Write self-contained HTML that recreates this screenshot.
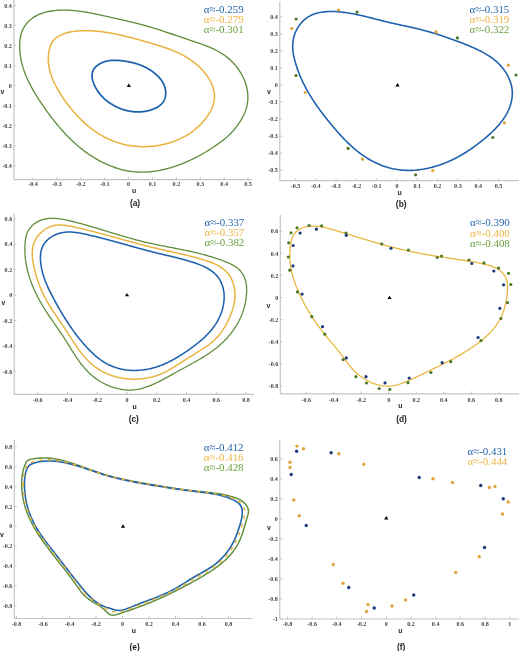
<!DOCTYPE html>
<html><head><meta charset="utf-8"><title>Figure</title>
<style>
html,body{margin:0;padding:0;background:#fff;}
body{width:520px;height:651px;overflow:hidden;}
svg{display:block;}
.tk{font-family:"Liberation Serif",serif;font-size:6.1px;fill:#444;font-weight:bold;}
.ax{font-family:"Liberation Sans",sans-serif;font-size:6.9px;font-weight:bold;fill:#2a2a2a;}
.pl{font-family:"Liberation Sans",sans-serif;font-size:8.4px;font-weight:bold;fill:#222;}
.lg{font-family:"Liberation Serif",serif;font-size:10.9px;}
</style></head><body>
<svg width="520" height="651" viewBox="0 0 520 651">
<rect width="520" height="651" fill="#fff"/>
<line x1="13.90" y1="0.00" x2="13.90" y2="179.60" stroke="#c4c4c4" stroke-width="1.2"/>
<line x1="13.90" y1="179.60" x2="252.00" y2="179.60" stroke="#c4c4c4" stroke-width="1.2"/>
<line x1="33.04" y1="179.60" x2="33.04" y2="177.10" stroke="#bbb" stroke-width="0.8"/>
<text x="33.04" y="186.20" class="tk" text-anchor="middle">-0.4</text>
<line x1="56.93" y1="179.60" x2="56.93" y2="177.10" stroke="#bbb" stroke-width="0.8"/>
<text x="56.93" y="186.20" class="tk" text-anchor="middle">-0.3</text>
<line x1="80.82" y1="179.60" x2="80.82" y2="177.10" stroke="#bbb" stroke-width="0.8"/>
<text x="80.82" y="186.20" class="tk" text-anchor="middle">-0.2</text>
<line x1="104.71" y1="179.60" x2="104.71" y2="177.10" stroke="#bbb" stroke-width="0.8"/>
<text x="104.71" y="186.20" class="tk" text-anchor="middle">-0.1</text>
<line x1="128.60" y1="179.60" x2="128.60" y2="177.10" stroke="#bbb" stroke-width="0.8"/>
<text x="128.60" y="186.20" class="tk" text-anchor="middle">0</text>
<line x1="152.49" y1="179.60" x2="152.49" y2="177.10" stroke="#bbb" stroke-width="0.8"/>
<text x="152.49" y="186.20" class="tk" text-anchor="middle">0.1</text>
<line x1="176.38" y1="179.60" x2="176.38" y2="177.10" stroke="#bbb" stroke-width="0.8"/>
<text x="176.38" y="186.20" class="tk" text-anchor="middle">0.2</text>
<line x1="200.27" y1="179.60" x2="200.27" y2="177.10" stroke="#bbb" stroke-width="0.8"/>
<text x="200.27" y="186.20" class="tk" text-anchor="middle">0.3</text>
<line x1="224.16" y1="179.60" x2="224.16" y2="177.10" stroke="#bbb" stroke-width="0.8"/>
<text x="224.16" y="186.20" class="tk" text-anchor="middle">0.4</text>
<line x1="248.05" y1="179.60" x2="248.05" y2="177.10" stroke="#bbb" stroke-width="0.8"/>
<text x="248.05" y="186.20" class="tk" text-anchor="middle">0.5</text>
<line x1="13.90" y1="165.76" x2="16.40" y2="165.76" stroke="#bbb" stroke-width="0.8"/>
<text x="11.90" y="167.96" class="tk" text-anchor="end">-0.4</text>
<line x1="13.90" y1="145.72" x2="16.40" y2="145.72" stroke="#bbb" stroke-width="0.8"/>
<text x="11.90" y="147.92" class="tk" text-anchor="end">-0.3</text>
<line x1="13.90" y1="125.68" x2="16.40" y2="125.68" stroke="#bbb" stroke-width="0.8"/>
<text x="11.90" y="127.88" class="tk" text-anchor="end">-0.2</text>
<line x1="13.90" y1="105.64" x2="16.40" y2="105.64" stroke="#bbb" stroke-width="0.8"/>
<text x="11.90" y="107.84" class="tk" text-anchor="end">-0.1</text>
<line x1="13.90" y1="85.60" x2="16.40" y2="85.60" stroke="#bbb" stroke-width="0.8"/>
<text x="11.90" y="87.80" class="tk" text-anchor="end">0</text>
<line x1="13.90" y1="65.56" x2="16.40" y2="65.56" stroke="#bbb" stroke-width="0.8"/>
<text x="11.90" y="67.76" class="tk" text-anchor="end">0.1</text>
<line x1="13.90" y1="45.52" x2="16.40" y2="45.52" stroke="#bbb" stroke-width="0.8"/>
<text x="11.90" y="47.72" class="tk" text-anchor="end">0.2</text>
<line x1="13.90" y1="25.48" x2="16.40" y2="25.48" stroke="#bbb" stroke-width="0.8"/>
<text x="11.90" y="27.68" class="tk" text-anchor="end">0.3</text>
<line x1="13.90" y1="5.44" x2="16.40" y2="5.44" stroke="#bbb" stroke-width="0.8"/>
<text x="11.90" y="7.64" class="tk" text-anchor="end">0.4</text>
<text x="134.10" y="192.80" class="ax" text-anchor="middle">u</text>
<text x="2.40" y="93.90" class="ax" text-anchor="middle">v</text>
<text x="135.00" y="206.40" class="pl" text-anchor="middle">(a)</text>
<path d="M126.70,86.90 L130.90,86.90 L128.80,83.50 Z" fill="#000"/>
<text x="203.80" y="12.60" class="lg" fill="#2565aa">α≈-0.259</text>
<text x="203.80" y="22.70" class="lg" fill="#eeb540">α≈-0.279</text>
<text x="203.80" y="32.80" class="lg" fill="#69a03e">α≈-0.301</text>
<line x1="279.80" y1="1.50" x2="279.80" y2="180.70" stroke="#c4c4c4" stroke-width="1.2"/>
<line x1="279.80" y1="180.70" x2="519.00" y2="180.70" stroke="#c4c4c4" stroke-width="1.2"/>
<line x1="295.50" y1="180.70" x2="295.50" y2="178.20" stroke="#bbb" stroke-width="0.8"/>
<text x="295.50" y="188.15" class="tk" text-anchor="middle">-0.5</text>
<line x1="315.80" y1="180.70" x2="315.80" y2="178.20" stroke="#bbb" stroke-width="0.8"/>
<text x="315.80" y="188.15" class="tk" text-anchor="middle">-0.4</text>
<line x1="336.10" y1="180.70" x2="336.10" y2="178.20" stroke="#bbb" stroke-width="0.8"/>
<text x="336.10" y="188.15" class="tk" text-anchor="middle">-0.3</text>
<line x1="356.40" y1="180.70" x2="356.40" y2="178.20" stroke="#bbb" stroke-width="0.8"/>
<text x="356.40" y="188.15" class="tk" text-anchor="middle">-0.2</text>
<line x1="376.70" y1="180.70" x2="376.70" y2="178.20" stroke="#bbb" stroke-width="0.8"/>
<text x="376.70" y="188.15" class="tk" text-anchor="middle">-0.1</text>
<line x1="397.00" y1="180.70" x2="397.00" y2="178.20" stroke="#bbb" stroke-width="0.8"/>
<text x="397.00" y="188.15" class="tk" text-anchor="middle">0</text>
<line x1="417.30" y1="180.70" x2="417.30" y2="178.20" stroke="#bbb" stroke-width="0.8"/>
<text x="417.30" y="188.15" class="tk" text-anchor="middle">0.1</text>
<line x1="437.60" y1="180.70" x2="437.60" y2="178.20" stroke="#bbb" stroke-width="0.8"/>
<text x="437.60" y="188.15" class="tk" text-anchor="middle">0.2</text>
<line x1="457.90" y1="180.70" x2="457.90" y2="178.20" stroke="#bbb" stroke-width="0.8"/>
<text x="457.90" y="188.15" class="tk" text-anchor="middle">0.3</text>
<line x1="478.20" y1="180.70" x2="478.20" y2="178.20" stroke="#bbb" stroke-width="0.8"/>
<text x="478.20" y="188.15" class="tk" text-anchor="middle">0.4</text>
<line x1="498.50" y1="180.70" x2="498.50" y2="178.20" stroke="#bbb" stroke-width="0.8"/>
<text x="498.50" y="188.15" class="tk" text-anchor="middle">0.5</text>
<line x1="279.80" y1="170.25" x2="282.30" y2="170.25" stroke="#bbb" stroke-width="0.8"/>
<text x="277.80" y="172.45" class="tk" text-anchor="end">-0.5</text>
<line x1="279.80" y1="153.20" x2="282.30" y2="153.20" stroke="#bbb" stroke-width="0.8"/>
<text x="277.80" y="155.40" class="tk" text-anchor="end">-0.4</text>
<line x1="279.80" y1="136.15" x2="282.30" y2="136.15" stroke="#bbb" stroke-width="0.8"/>
<text x="277.80" y="138.35" class="tk" text-anchor="end">-0.3</text>
<line x1="279.80" y1="119.10" x2="282.30" y2="119.10" stroke="#bbb" stroke-width="0.8"/>
<text x="277.80" y="121.30" class="tk" text-anchor="end">-0.2</text>
<line x1="279.80" y1="102.05" x2="282.30" y2="102.05" stroke="#bbb" stroke-width="0.8"/>
<text x="277.80" y="104.25" class="tk" text-anchor="end">-0.1</text>
<line x1="279.80" y1="85.00" x2="282.30" y2="85.00" stroke="#bbb" stroke-width="0.8"/>
<text x="277.80" y="87.20" class="tk" text-anchor="end">0</text>
<line x1="279.80" y1="67.95" x2="282.30" y2="67.95" stroke="#bbb" stroke-width="0.8"/>
<text x="277.80" y="70.15" class="tk" text-anchor="end">0.1</text>
<line x1="279.80" y1="50.90" x2="282.30" y2="50.90" stroke="#bbb" stroke-width="0.8"/>
<text x="277.80" y="53.10" class="tk" text-anchor="end">0.2</text>
<line x1="279.80" y1="33.85" x2="282.30" y2="33.85" stroke="#bbb" stroke-width="0.8"/>
<text x="277.80" y="36.05" class="tk" text-anchor="end">0.3</text>
<line x1="279.80" y1="16.80" x2="282.30" y2="16.80" stroke="#bbb" stroke-width="0.8"/>
<text x="277.80" y="19.00" class="tk" text-anchor="end">0.4</text>
<text x="399.70" y="194.90" class="ax" text-anchor="middle">u</text>
<text x="269.00" y="93.90" class="ax" text-anchor="middle">v</text>
<text x="401.20" y="206.60" class="pl" text-anchor="middle">(b)</text>
<path d="M395.40,86.50 L399.60,86.50 L397.50,83.10 Z" fill="#000"/>
<text x="469.50" y="13.00" class="lg" fill="#2565aa">α≈-0.315</text>
<text x="469.50" y="23.00" class="lg" fill="#eeb540">α≈-0.319</text>
<text x="469.50" y="33.00" class="lg" fill="#69a03e">α≈-0.322</text>
<line x1="14.20" y1="213.90" x2="14.20" y2="394.40" stroke="#c4c4c4" stroke-width="1.2"/>
<line x1="14.20" y1="394.40" x2="254.00" y2="394.40" stroke="#c4c4c4" stroke-width="1.2"/>
<line x1="37.75" y1="394.40" x2="37.75" y2="391.90" stroke="#bbb" stroke-width="0.8"/>
<text x="37.75" y="401.85" class="tk" text-anchor="middle">-0.6</text>
<line x1="67.50" y1="394.40" x2="67.50" y2="391.90" stroke="#bbb" stroke-width="0.8"/>
<text x="67.50" y="401.85" class="tk" text-anchor="middle">-0.4</text>
<line x1="97.25" y1="394.40" x2="97.25" y2="391.90" stroke="#bbb" stroke-width="0.8"/>
<text x="97.25" y="401.85" class="tk" text-anchor="middle">-0.2</text>
<line x1="127.00" y1="394.40" x2="127.00" y2="391.90" stroke="#bbb" stroke-width="0.8"/>
<text x="127.00" y="401.85" class="tk" text-anchor="middle">0</text>
<line x1="156.75" y1="394.40" x2="156.75" y2="391.90" stroke="#bbb" stroke-width="0.8"/>
<text x="156.75" y="401.85" class="tk" text-anchor="middle">0.2</text>
<line x1="186.50" y1="394.40" x2="186.50" y2="391.90" stroke="#bbb" stroke-width="0.8"/>
<text x="186.50" y="401.85" class="tk" text-anchor="middle">0.4</text>
<line x1="216.25" y1="394.40" x2="216.25" y2="391.90" stroke="#bbb" stroke-width="0.8"/>
<text x="216.25" y="401.85" class="tk" text-anchor="middle">0.6</text>
<line x1="246.00" y1="394.40" x2="246.00" y2="391.90" stroke="#bbb" stroke-width="0.8"/>
<text x="246.00" y="401.85" class="tk" text-anchor="middle">0.8</text>
<line x1="14.20" y1="371.32" x2="16.70" y2="371.32" stroke="#bbb" stroke-width="0.8"/>
<text x="12.20" y="373.52" class="tk" text-anchor="end">-0.6</text>
<line x1="14.20" y1="345.88" x2="16.70" y2="345.88" stroke="#bbb" stroke-width="0.8"/>
<text x="12.20" y="348.08" class="tk" text-anchor="end">-0.4</text>
<line x1="14.20" y1="320.44" x2="16.70" y2="320.44" stroke="#bbb" stroke-width="0.8"/>
<text x="12.20" y="322.64" class="tk" text-anchor="end">-0.2</text>
<line x1="14.20" y1="295.00" x2="16.70" y2="295.00" stroke="#bbb" stroke-width="0.8"/>
<text x="12.20" y="297.20" class="tk" text-anchor="end">0</text>
<line x1="14.20" y1="269.56" x2="16.70" y2="269.56" stroke="#bbb" stroke-width="0.8"/>
<text x="12.20" y="271.76" class="tk" text-anchor="end">0.2</text>
<line x1="14.20" y1="244.12" x2="16.70" y2="244.12" stroke="#bbb" stroke-width="0.8"/>
<text x="12.20" y="246.32" class="tk" text-anchor="end">0.4</text>
<line x1="14.20" y1="218.68" x2="16.70" y2="218.68" stroke="#bbb" stroke-width="0.8"/>
<text x="12.20" y="220.88" class="tk" text-anchor="end">0.6</text>
<text x="134.60" y="408.70" class="ax" text-anchor="middle">u</text>
<text x="3.50" y="304.50" class="ax" text-anchor="middle">v</text>
<text x="133.80" y="422.00" class="pl" text-anchor="middle">(c)</text>
<path d="M124.90,296.30 L129.10,296.30 L127.00,292.90 Z" fill="#000"/>
<text x="204.50" y="226.25" class="lg" fill="#2565aa">α≈-0.337</text>
<text x="204.50" y="236.25" class="lg" fill="#eeb540">α≈-0.357</text>
<text x="204.50" y="246.25" class="lg" fill="#69a03e">α≈-0.382</text>
<line x1="280.30" y1="215.00" x2="280.30" y2="393.90" stroke="#c4c4c4" stroke-width="1.2"/>
<line x1="280.30" y1="393.90" x2="519.00" y2="393.90" stroke="#c4c4c4" stroke-width="1.2"/>
<line x1="306.25" y1="393.90" x2="306.25" y2="391.40" stroke="#bbb" stroke-width="0.8"/>
<text x="306.25" y="401.65" class="tk" text-anchor="middle">-0.6</text>
<line x1="333.75" y1="393.90" x2="333.75" y2="391.40" stroke="#bbb" stroke-width="0.8"/>
<text x="333.75" y="401.65" class="tk" text-anchor="middle">-0.4</text>
<line x1="361.25" y1="393.90" x2="361.25" y2="391.40" stroke="#bbb" stroke-width="0.8"/>
<text x="361.25" y="401.65" class="tk" text-anchor="middle">-0.2</text>
<line x1="388.75" y1="393.90" x2="388.75" y2="391.40" stroke="#bbb" stroke-width="0.8"/>
<text x="388.75" y="401.65" class="tk" text-anchor="middle">0</text>
<line x1="416.25" y1="393.90" x2="416.25" y2="391.40" stroke="#bbb" stroke-width="0.8"/>
<text x="416.25" y="401.65" class="tk" text-anchor="middle">0.2</text>
<line x1="443.75" y1="393.90" x2="443.75" y2="391.40" stroke="#bbb" stroke-width="0.8"/>
<text x="443.75" y="401.65" class="tk" text-anchor="middle">0.4</text>
<line x1="471.25" y1="393.90" x2="471.25" y2="391.40" stroke="#bbb" stroke-width="0.8"/>
<text x="471.25" y="401.65" class="tk" text-anchor="middle">0.6</text>
<line x1="498.75" y1="393.90" x2="498.75" y2="391.40" stroke="#bbb" stroke-width="0.8"/>
<text x="498.75" y="401.65" class="tk" text-anchor="middle">0.8</text>
<line x1="280.30" y1="385.90" x2="282.80" y2="385.90" stroke="#bbb" stroke-width="0.8"/>
<text x="278.30" y="388.10" class="tk" text-anchor="end">-0.8</text>
<line x1="280.30" y1="363.80" x2="282.80" y2="363.80" stroke="#bbb" stroke-width="0.8"/>
<text x="278.30" y="366.00" class="tk" text-anchor="end">-0.6</text>
<line x1="280.30" y1="341.70" x2="282.80" y2="341.70" stroke="#bbb" stroke-width="0.8"/>
<text x="278.30" y="343.90" class="tk" text-anchor="end">-0.4</text>
<line x1="280.30" y1="319.60" x2="282.80" y2="319.60" stroke="#bbb" stroke-width="0.8"/>
<text x="278.30" y="321.80" class="tk" text-anchor="end">-0.2</text>
<line x1="280.30" y1="297.50" x2="282.80" y2="297.50" stroke="#bbb" stroke-width="0.8"/>
<text x="278.30" y="299.70" class="tk" text-anchor="end">0</text>
<line x1="280.30" y1="275.40" x2="282.80" y2="275.40" stroke="#bbb" stroke-width="0.8"/>
<text x="278.30" y="277.60" class="tk" text-anchor="end">0.2</text>
<line x1="280.30" y1="253.30" x2="282.80" y2="253.30" stroke="#bbb" stroke-width="0.8"/>
<text x="278.30" y="255.50" class="tk" text-anchor="end">0.4</text>
<line x1="280.30" y1="231.20" x2="282.80" y2="231.20" stroke="#bbb" stroke-width="0.8"/>
<text x="278.30" y="233.40" class="tk" text-anchor="end">0.6</text>
<text x="400.30" y="408.40" class="ax" text-anchor="middle">u</text>
<text x="268.50" y="307.80" class="ax" text-anchor="middle">v</text>
<text x="401.50" y="422.40" class="pl" text-anchor="middle">(d)</text>
<path d="M387.40,299.10 L391.60,299.10 L389.50,295.70 Z" fill="#000"/>
<text x="470.00" y="226.25" class="lg" fill="#2565aa">α≈-0.390</text>
<text x="470.00" y="236.75" class="lg" fill="#eeb540">α≈-0.400</text>
<text x="470.00" y="247.00" class="lg" fill="#69a03e">α≈-0.408</text>
<line x1="14.30" y1="439.60" x2="14.30" y2="618.50" stroke="#c4c4c4" stroke-width="1.2"/>
<line x1="14.30" y1="618.50" x2="252.50" y2="618.50" stroke="#c4c4c4" stroke-width="1.2"/>
<line x1="16.50" y1="618.50" x2="16.50" y2="616.00" stroke="#bbb" stroke-width="0.8"/>
<text x="16.50" y="626.05" class="tk" text-anchor="middle">-0.8</text>
<line x1="43.00" y1="618.50" x2="43.00" y2="616.00" stroke="#bbb" stroke-width="0.8"/>
<text x="43.00" y="626.05" class="tk" text-anchor="middle">-0.6</text>
<line x1="69.50" y1="618.50" x2="69.50" y2="616.00" stroke="#bbb" stroke-width="0.8"/>
<text x="69.50" y="626.05" class="tk" text-anchor="middle">-0.4</text>
<line x1="96.00" y1="618.50" x2="96.00" y2="616.00" stroke="#bbb" stroke-width="0.8"/>
<text x="96.00" y="626.05" class="tk" text-anchor="middle">-0.2</text>
<line x1="122.50" y1="618.50" x2="122.50" y2="616.00" stroke="#bbb" stroke-width="0.8"/>
<text x="122.50" y="626.05" class="tk" text-anchor="middle">0</text>
<line x1="149.00" y1="618.50" x2="149.00" y2="616.00" stroke="#bbb" stroke-width="0.8"/>
<text x="149.00" y="626.05" class="tk" text-anchor="middle">0.2</text>
<line x1="175.50" y1="618.50" x2="175.50" y2="616.00" stroke="#bbb" stroke-width="0.8"/>
<text x="175.50" y="626.05" class="tk" text-anchor="middle">0.4</text>
<line x1="202.00" y1="618.50" x2="202.00" y2="616.00" stroke="#bbb" stroke-width="0.8"/>
<text x="202.00" y="626.05" class="tk" text-anchor="middle">0.6</text>
<line x1="228.50" y1="618.50" x2="228.50" y2="616.00" stroke="#bbb" stroke-width="0.8"/>
<text x="228.50" y="626.05" class="tk" text-anchor="middle">0.8</text>
<line x1="14.30" y1="605.85" x2="16.80" y2="605.85" stroke="#bbb" stroke-width="0.8"/>
<text x="12.30" y="608.05" class="tk" text-anchor="end">-0.8</text>
<line x1="14.30" y1="585.95" x2="16.80" y2="585.95" stroke="#bbb" stroke-width="0.8"/>
<text x="12.30" y="588.15" class="tk" text-anchor="end">-0.6</text>
<line x1="14.30" y1="566.05" x2="16.80" y2="566.05" stroke="#bbb" stroke-width="0.8"/>
<text x="12.30" y="568.25" class="tk" text-anchor="end">-0.4</text>
<line x1="14.30" y1="546.15" x2="16.80" y2="546.15" stroke="#bbb" stroke-width="0.8"/>
<text x="12.30" y="548.35" class="tk" text-anchor="end">-0.2</text>
<line x1="14.30" y1="526.25" x2="16.80" y2="526.25" stroke="#bbb" stroke-width="0.8"/>
<text x="12.30" y="528.45" class="tk" text-anchor="end">0</text>
<line x1="14.30" y1="506.35" x2="16.80" y2="506.35" stroke="#bbb" stroke-width="0.8"/>
<text x="12.30" y="508.55" class="tk" text-anchor="end">0.2</text>
<line x1="14.30" y1="486.45" x2="16.80" y2="486.45" stroke="#bbb" stroke-width="0.8"/>
<text x="12.30" y="488.65" class="tk" text-anchor="end">0.4</text>
<line x1="14.30" y1="466.55" x2="16.80" y2="466.55" stroke="#bbb" stroke-width="0.8"/>
<text x="12.30" y="468.75" class="tk" text-anchor="end">0.6</text>
<line x1="14.30" y1="446.65" x2="16.80" y2="446.65" stroke="#bbb" stroke-width="0.8"/>
<text x="12.30" y="448.85" class="tk" text-anchor="end">0.8</text>
<text x="133.80" y="633.00" class="ax" text-anchor="middle">u</text>
<text x="2.00" y="536.50" class="ax" text-anchor="middle">v</text>
<text x="134.60" y="649.80" class="pl" text-anchor="middle">(e)</text>
<path d="M120.90,527.70 L125.10,527.70 L123.00,524.30 Z" fill="#000"/>
<text x="203.75" y="450.75" class="lg" fill="#2565aa">α≈-0.412</text>
<text x="203.75" y="461.25" class="lg" fill="#eeb540">α≈-0.416</text>
<text x="203.75" y="471.25" class="lg" fill="#69a03e">α≈-0.428</text>
<line x1="279.80" y1="439.60" x2="279.80" y2="619.00" stroke="#c4c4c4" stroke-width="1.2"/>
<line x1="279.80" y1="619.00" x2="519.00" y2="619.00" stroke="#c4c4c4" stroke-width="1.2"/>
<line x1="287.45" y1="619.00" x2="287.45" y2="616.50" stroke="#bbb" stroke-width="0.8"/>
<text x="287.45" y="626.45" class="tk" text-anchor="middle">-0.8</text>
<line x1="312.15" y1="619.00" x2="312.15" y2="616.50" stroke="#bbb" stroke-width="0.8"/>
<text x="312.15" y="626.45" class="tk" text-anchor="middle">-0.6</text>
<line x1="336.85" y1="619.00" x2="336.85" y2="616.50" stroke="#bbb" stroke-width="0.8"/>
<text x="336.85" y="626.45" class="tk" text-anchor="middle">-0.4</text>
<line x1="361.55" y1="619.00" x2="361.55" y2="616.50" stroke="#bbb" stroke-width="0.8"/>
<text x="361.55" y="626.45" class="tk" text-anchor="middle">-0.2</text>
<line x1="386.25" y1="619.00" x2="386.25" y2="616.50" stroke="#bbb" stroke-width="0.8"/>
<text x="386.25" y="626.45" class="tk" text-anchor="middle">0</text>
<line x1="410.95" y1="619.00" x2="410.95" y2="616.50" stroke="#bbb" stroke-width="0.8"/>
<text x="410.95" y="626.45" class="tk" text-anchor="middle">0.2</text>
<line x1="435.65" y1="619.00" x2="435.65" y2="616.50" stroke="#bbb" stroke-width="0.8"/>
<text x="435.65" y="626.45" class="tk" text-anchor="middle">0.4</text>
<line x1="460.35" y1="619.00" x2="460.35" y2="616.50" stroke="#bbb" stroke-width="0.8"/>
<text x="460.35" y="626.45" class="tk" text-anchor="middle">0.6</text>
<line x1="485.05" y1="619.00" x2="485.05" y2="616.50" stroke="#bbb" stroke-width="0.8"/>
<text x="485.05" y="626.45" class="tk" text-anchor="middle">0.8</text>
<line x1="509.75" y1="619.00" x2="509.75" y2="616.50" stroke="#bbb" stroke-width="0.8"/>
<text x="509.75" y="626.45" class="tk" text-anchor="middle">1</text>
<line x1="279.80" y1="618.75" x2="282.30" y2="618.75" stroke="#bbb" stroke-width="0.8"/>
<text x="277.80" y="620.95" class="tk" text-anchor="end">-1</text>
<line x1="279.80" y1="598.75" x2="282.30" y2="598.75" stroke="#bbb" stroke-width="0.8"/>
<text x="277.80" y="600.95" class="tk" text-anchor="end">-0.8</text>
<line x1="279.80" y1="578.75" x2="282.30" y2="578.75" stroke="#bbb" stroke-width="0.8"/>
<text x="277.80" y="580.95" class="tk" text-anchor="end">-0.6</text>
<line x1="279.80" y1="558.75" x2="282.30" y2="558.75" stroke="#bbb" stroke-width="0.8"/>
<text x="277.80" y="560.95" class="tk" text-anchor="end">-0.4</text>
<line x1="279.80" y1="538.75" x2="282.30" y2="538.75" stroke="#bbb" stroke-width="0.8"/>
<text x="277.80" y="540.95" class="tk" text-anchor="end">-0.2</text>
<line x1="279.80" y1="518.75" x2="282.30" y2="518.75" stroke="#bbb" stroke-width="0.8"/>
<text x="277.80" y="520.95" class="tk" text-anchor="end">0</text>
<line x1="279.80" y1="498.75" x2="282.30" y2="498.75" stroke="#bbb" stroke-width="0.8"/>
<text x="277.80" y="500.95" class="tk" text-anchor="end">0.2</text>
<line x1="279.80" y1="478.75" x2="282.30" y2="478.75" stroke="#bbb" stroke-width="0.8"/>
<text x="277.80" y="480.95" class="tk" text-anchor="end">0.4</text>
<line x1="279.80" y1="458.75" x2="282.30" y2="458.75" stroke="#bbb" stroke-width="0.8"/>
<text x="277.80" y="460.95" class="tk" text-anchor="end">0.6</text>
<text x="400.30" y="633.40" class="ax" text-anchor="middle">u</text>
<text x="268.80" y="530.00" class="ax" text-anchor="middle">v</text>
<text x="401.20" y="650.20" class="pl" text-anchor="middle">(f)</text>
<path d="M384.15,519.50 L388.35,519.50 L386.25,516.10 Z" fill="#000"/>
<text x="467.50" y="455.00" class="lg" fill="#2565aa">α≈-0.431</text>
<text x="467.50" y="465.00" class="lg" fill="#eeb540">α≈-0.444</text>
<path d="M19.65,45.56 L19.68,44.00 L19.76,42.45 L19.88,40.89 L20.05,39.34 L20.27,37.80 L20.56,36.27 L20.91,34.76 L21.32,33.28 L21.81,31.82 L22.38,30.40 L23.03,29.01 L23.76,27.66 L24.56,26.35 L25.44,25.09 L26.37,23.87 L27.37,22.70 L28.43,21.58 L29.53,20.52 L30.68,19.52 L31.88,18.57 L33.11,17.68 L34.38,16.85 L35.68,16.09 L37.01,15.37 L38.37,14.72 L39.76,14.12 L41.17,13.56 L42.61,13.06 L44.06,12.61 L45.54,12.20 L47.03,11.83 L48.53,11.50 L50.05,11.22 L51.58,10.97 L53.11,10.76 L54.66,10.59 L56.20,10.44 L57.75,10.33 L59.30,10.24 L60.85,10.18 L62.40,10.15 L63.94,10.14 L65.48,10.15 L67.01,10.19 L68.54,10.24 L70.07,10.32 L71.59,10.41 L73.11,10.53 L74.63,10.66 L76.14,10.81 L77.65,10.98 L79.16,11.17 L80.67,11.36 L82.17,11.58 L83.68,11.80 L85.18,12.04 L86.68,12.29 L88.18,12.55 L89.67,12.83 L91.17,13.11 L92.66,13.40 L94.16,13.70 L95.65,14.00 L97.14,14.32 L98.63,14.64 L100.13,14.96 L101.62,15.29 L103.11,15.62 L104.60,15.95 L106.10,16.29 L107.59,16.62 L109.09,16.96 L110.58,17.29 L112.08,17.63 L113.58,17.96 L115.07,18.30 L116.57,18.63 L118.07,18.97 L119.57,19.31 L121.07,19.65 L122.57,19.99 L124.06,20.33 L125.56,20.67 L127.06,21.02 L128.55,21.37 L130.04,21.73 L131.54,22.08 L133.03,22.44 L134.52,22.81 L136.00,23.18 L137.49,23.55 L138.97,23.93 L140.45,24.32 L141.93,24.71 L143.40,25.11 L144.87,25.51 L146.34,25.92 L147.81,26.34 L149.27,26.77 L150.73,27.20 L152.18,27.63 L153.64,28.08 L155.09,28.53 L156.54,28.98 L157.98,29.44 L159.43,29.91 L160.87,30.38 L162.31,30.85 L163.76,31.32 L165.20,31.80 L166.64,32.29 L168.08,32.77 L169.52,33.26 L170.96,33.75 L172.40,34.25 L173.84,34.74 L175.28,35.23 L176.72,35.73 L178.16,36.23 L179.61,36.72 L181.05,37.22 L182.50,37.72 L183.95,38.21 L185.40,38.71 L186.86,39.20 L188.32,39.69 L189.78,40.18 L191.24,40.67 L192.71,41.16 L194.17,41.65 L195.64,42.14 L197.11,42.63 L198.57,43.13 L200.03,43.63 L201.49,44.14 L202.95,44.67 L204.39,45.20 L205.84,45.75 L207.27,46.31 L208.70,46.88 L210.11,47.47 L211.52,48.08 L212.91,48.72 L214.30,49.37 L215.66,50.04 L217.02,50.74 L218.36,51.47 L219.68,52.22 L220.99,53.00 L222.27,53.81 L223.54,54.66 L224.79,55.53 L226.02,56.45 L227.22,57.39 L228.41,58.37 L229.56,59.38 L230.70,60.42 L231.80,61.50 L232.88,62.60 L233.93,63.72 L234.95,64.88 L235.94,66.06 L236.90,67.27 L237.83,68.50 L238.72,69.75 L239.58,71.02 L240.40,72.32 L241.18,73.63 L241.93,74.97 L242.64,76.32 L243.31,77.69 L243.94,79.07 L244.52,80.47 L245.06,81.88 L245.56,83.31 L246.01,84.74 L246.42,86.19 L246.78,87.65 L247.09,89.11 L247.35,90.58 L247.57,92.06 L247.72,93.55 L247.83,95.03 L247.89,96.53 L247.89,98.02 L247.83,99.52 L247.72,101.01 L247.55,102.51 L247.32,104.00 L247.03,105.49 L246.68,106.98 L246.26,108.46 L245.79,109.94 L245.26,111.41 L244.67,112.87 L244.03,114.31 L243.34,115.75 L242.61,117.17 L241.84,118.57 L241.03,119.95 L240.19,121.32 L239.32,122.66 L238.43,123.98 L237.51,125.27 L236.58,126.53 L235.63,127.76 L234.68,128.96 L233.70,130.13 L232.72,131.28 L231.71,132.39 L230.69,133.47 L229.65,134.53 L228.58,135.56 L227.49,136.56 L226.37,137.54 L225.22,138.50 L224.05,139.43 L222.87,140.35 L221.67,141.26 L220.46,142.15 L219.23,143.04 L218.00,143.92 L216.76,144.79 L215.52,145.66 L214.26,146.51 L213.00,147.36 L211.73,148.20 L210.45,149.03 L209.16,149.85 L207.87,150.66 L206.56,151.46 L205.25,152.24 L203.94,153.02 L202.61,153.79 L201.28,154.55 L199.94,155.29 L198.60,156.03 L197.24,156.75 L195.88,157.46 L194.52,158.15 L193.14,158.84 L191.76,159.51 L190.37,160.16 L188.98,160.81 L187.58,161.44 L186.18,162.05 L184.76,162.65 L183.35,163.24 L181.92,163.81 L180.49,164.36 L179.06,164.90 L177.61,165.42 L176.17,165.93 L174.71,166.42 L173.25,166.89 L171.79,167.35 L170.32,167.78 L168.85,168.21 L167.37,168.61 L165.88,168.99 L164.39,169.35 L162.90,169.70 L161.41,170.02 L159.91,170.32 L158.40,170.61 L156.90,170.87 L155.39,171.10 L153.88,171.32 L152.37,171.51 L150.85,171.68 L149.34,171.82 L147.82,171.94 L146.30,172.03 L144.78,172.10 L143.26,172.14 L141.74,172.16 L140.22,172.15 L138.71,172.11 L137.19,172.04 L135.67,171.95 L134.15,171.82 L132.64,171.67 L131.13,171.48 L129.62,171.27 L128.11,171.02 L126.60,170.75 L125.10,170.44 L123.60,170.10 L122.11,169.74 L120.62,169.34 L119.14,168.92 L117.66,168.47 L116.19,168.00 L114.72,167.50 L113.27,166.98 L111.82,166.43 L110.38,165.86 L108.95,165.27 L107.53,164.66 L106.12,164.03 L104.72,163.38 L103.33,162.71 L101.95,162.02 L100.59,161.31 L99.24,160.59 L97.90,159.85 L96.57,159.10 L95.26,158.33 L93.95,157.54 L92.66,156.74 L91.38,155.92 L90.12,155.09 L88.86,154.24 L87.62,153.38 L86.38,152.50 L85.16,151.61 L83.95,150.70 L82.75,149.79 L81.56,148.85 L80.38,147.91 L79.21,146.95 L78.06,145.98 L76.91,144.99 L75.77,144.00 L74.64,142.99 L73.52,141.97 L72.42,140.94 L71.32,139.90 L70.23,138.84 L69.15,137.78 L68.08,136.70 L67.01,135.61 L65.96,134.52 L64.92,133.41 L63.88,132.29 L62.85,131.17 L61.83,130.03 L60.82,128.89 L59.82,127.73 L58.82,126.57 L57.84,125.40 L56.86,124.22 L55.89,123.03 L54.92,121.84 L53.96,120.64 L53.01,119.43 L52.07,118.21 L51.14,116.99 L50.21,115.76 L49.28,114.52 L48.37,113.28 L47.46,112.03 L46.55,110.78 L45.66,109.52 L44.77,108.25 L43.88,106.98 L43.00,105.71 L42.13,104.43 L41.26,103.15 L40.40,101.86 L39.54,100.57 L38.69,99.27 L37.86,97.97 L37.03,96.66 L36.21,95.35 L35.40,94.03 L34.61,92.71 L33.83,91.38 L33.06,90.05 L32.30,88.71 L31.56,87.37 L30.83,86.02 L30.12,84.66 L29.43,83.30 L28.75,81.93 L28.10,80.56 L27.46,79.18 L26.84,77.79 L26.24,76.40 L25.66,75.00 L25.11,73.60 L24.57,72.19 L24.06,70.77 L23.58,69.35 L23.11,67.91 L22.68,66.48 L22.27,65.03 L21.89,63.58 L21.53,62.12 L21.20,60.65 L20.91,59.18 L20.64,57.69 L20.40,56.20 L20.19,54.71 L20.02,53.20 L19.88,51.69 L19.77,50.17 L19.69,48.64 L19.66,47.10Z" fill="none" stroke="#628f3e" stroke-width="1.35" stroke-linejoin="round"/>
<path d="M48.95,51.48 L49.16,50.36 L49.41,49.25 L49.69,48.15 L50.01,47.06 L50.37,45.98 L50.78,44.93 L51.24,43.91 L51.74,42.92 L52.30,41.97 L52.91,41.06 L53.58,40.20 L54.31,39.40 L55.10,38.65 L55.95,37.96 L56.84,37.31 L57.77,36.71 L58.72,36.15 L59.70,35.63 L60.70,35.14 L61.71,34.68 L62.73,34.26 L63.77,33.86 L64.82,33.49 L65.87,33.15 L66.94,32.83 L68.02,32.54 L69.10,32.28 L70.19,32.04 L71.29,31.82 L72.40,31.63 L73.51,31.45 L74.63,31.30 L75.75,31.17 L76.88,31.05 L78.01,30.96 L79.14,30.87 L80.27,30.81 L81.41,30.76 L82.54,30.73 L83.68,30.70 L84.81,30.69 L85.94,30.70 L87.07,30.71 L88.20,30.73 L89.32,30.76 L90.45,30.80 L91.57,30.85 L92.68,30.92 L93.80,30.98 L94.91,31.06 L96.02,31.15 L97.13,31.25 L98.23,31.35 L99.34,31.46 L100.44,31.58 L101.54,31.71 L102.64,31.85 L103.73,31.99 L104.83,32.14 L105.92,32.30 L107.01,32.46 L108.10,32.64 L109.19,32.81 L110.28,33.00 L111.36,33.19 L112.44,33.39 L113.53,33.59 L114.61,33.80 L115.69,34.02 L116.77,34.24 L117.85,34.47 L118.92,34.70 L120.00,34.93 L121.07,35.18 L122.15,35.42 L123.22,35.67 L124.30,35.93 L125.37,36.19 L126.44,36.45 L127.51,36.72 L128.58,36.99 L129.65,37.26 L130.73,37.54 L131.80,37.82 L132.87,38.10 L133.94,38.39 L135.01,38.68 L136.08,38.97 L137.15,39.26 L138.22,39.56 L139.29,39.85 L140.36,40.15 L141.43,40.45 L142.50,40.76 L143.57,41.06 L144.65,41.36 L145.72,41.67 L146.79,41.98 L147.87,42.28 L148.94,42.59 L150.02,42.90 L151.09,43.21 L152.17,43.53 L153.24,43.84 L154.32,44.16 L155.39,44.48 L156.46,44.81 L157.53,45.14 L158.60,45.47 L159.67,45.80 L160.73,46.14 L161.80,46.49 L162.86,46.84 L163.92,47.20 L164.97,47.56 L166.03,47.93 L167.08,48.30 L168.12,48.68 L169.17,49.07 L170.21,49.47 L171.24,49.87 L172.28,50.28 L173.30,50.70 L174.33,51.13 L175.34,51.57 L176.36,52.01 L177.36,52.47 L178.37,52.93 L179.36,53.41 L180.36,53.89 L181.34,54.39 L182.32,54.90 L183.29,55.42 L184.26,55.95 L185.22,56.49 L186.17,57.05 L187.12,57.61 L188.06,58.19 L188.99,58.79 L189.91,59.39 L190.82,60.02 L191.73,60.65 L192.63,61.30 L193.52,61.96 L194.40,62.64 L195.27,63.34 L196.13,64.05 L196.98,64.78 L197.83,65.52 L198.66,66.28 L199.49,67.05 L200.30,67.85 L201.10,68.66 L201.89,69.48 L202.66,70.33 L203.42,71.18 L204.17,72.05 L204.90,72.94 L205.61,73.84 L206.30,74.75 L206.97,75.67 L207.62,76.61 L208.25,77.55 L208.85,78.51 L209.43,79.48 L209.98,80.45 L210.51,81.44 L211.01,82.43 L211.48,83.43 L211.93,84.44 L212.34,85.46 L212.72,86.48 L213.06,87.51 L213.38,88.55 L213.65,89.58 L213.89,90.63 L214.10,91.67 L214.26,92.73 L214.39,93.78 L214.48,94.83 L214.52,95.89 L214.52,96.95 L214.48,98.01 L214.39,99.06 L214.26,100.12 L214.09,101.18 L213.87,102.23 L213.61,103.28 L213.31,104.33 L212.97,105.38 L212.60,106.42 L212.19,107.45 L211.75,108.48 L211.28,109.50 L210.78,110.51 L210.25,111.51 L209.69,112.51 L209.10,113.49 L208.50,114.47 L207.87,115.43 L207.22,116.38 L206.55,117.32 L205.86,118.25 L205.15,119.16 L204.44,120.05 L203.70,120.93 L202.96,121.80 L202.20,122.65 L201.44,123.48 L200.66,124.30 L199.86,125.10 L199.06,125.89 L198.25,126.66 L197.42,127.41 L196.58,128.15 L195.74,128.88 L194.88,129.59 L194.01,130.28 L193.13,130.96 L192.24,131.63 L191.35,132.28 L190.44,132.91 L189.52,133.53 L188.60,134.13 L187.66,134.72 L186.72,135.30 L185.77,135.86 L184.81,136.40 L183.84,136.93 L182.86,137.45 L181.88,137.95 L180.89,138.44 L179.89,138.91 L178.89,139.37 L177.87,139.82 L176.85,140.25 L175.83,140.66 L174.80,141.06 L173.76,141.45 L172.71,141.82 L171.66,142.18 L170.61,142.53 L169.55,142.86 L168.48,143.18 L167.41,143.48 L166.34,143.77 L165.26,144.05 L164.17,144.31 L163.08,144.56 L161.99,144.80 L160.90,145.02 L159.80,145.22 L158.70,145.42 L157.59,145.59 L156.49,145.76 L155.38,145.91 L154.27,146.05 L153.15,146.17 L152.04,146.28 L150.92,146.37 L149.81,146.45 L148.69,146.52 L147.57,146.57 L146.45,146.61 L145.33,146.64 L144.21,146.65 L143.09,146.65 L141.97,146.63 L140.86,146.60 L139.74,146.55 L138.62,146.49 L137.51,146.42 L136.39,146.33 L135.28,146.23 L134.17,146.12 L133.07,145.99 L131.96,145.85 L130.86,145.69 L129.76,145.52 L128.67,145.33 L127.57,145.13 L126.49,144.92 L125.40,144.69 L124.32,144.45 L123.25,144.20 L122.17,143.93 L121.11,143.64 L120.05,143.34 L118.99,143.03 L117.94,142.71 L116.89,142.37 L115.85,142.01 L114.82,141.64 L113.79,141.26 L112.77,140.87 L111.76,140.46 L110.75,140.04 L109.75,139.60 L108.75,139.15 L107.76,138.69 L106.78,138.21 L105.80,137.73 L104.83,137.23 L103.86,136.72 L102.90,136.19 L101.95,135.66 L101.00,135.11 L100.06,134.55 L99.13,133.98 L98.20,133.39 L97.28,132.80 L96.36,132.19 L95.45,131.58 L94.55,130.95 L93.65,130.31 L92.76,129.66 L91.88,129.01 L91.00,128.34 L90.13,127.66 L89.26,126.97 L88.40,126.27 L87.55,125.56 L86.70,124.85 L85.86,124.12 L85.03,123.38 L84.20,122.64 L83.38,121.89 L82.57,121.12 L81.76,120.35 L80.96,119.57 L80.16,118.79 L79.37,117.99 L78.59,117.19 L77.81,116.38 L77.05,115.56 L76.28,114.73 L75.53,113.90 L74.78,113.06 L74.03,112.21 L73.29,111.36 L72.56,110.49 L71.84,109.63 L71.12,108.75 L70.41,107.87 L69.71,106.99 L69.01,106.09 L68.32,105.20 L67.63,104.29 L66.95,103.38 L66.28,102.47 L65.62,101.55 L64.96,100.62 L64.31,99.70 L63.66,98.76 L63.02,97.82 L62.39,96.88 L61.77,95.93 L61.15,94.98 L60.54,94.03 L59.94,93.07 L59.34,92.10 L58.76,91.13 L58.18,90.16 L57.62,89.18 L57.07,88.20 L56.53,87.22 L56.00,86.23 L55.48,85.24 L54.98,84.24 L54.49,83.24 L54.01,82.24 L53.55,81.23 L53.11,80.22 L52.68,79.20 L52.26,78.18 L51.87,77.16 L51.49,76.13 L51.13,75.10 L50.79,74.06 L50.47,73.02 L50.17,71.98 L49.89,70.93 L49.63,69.88 L49.39,68.83 L49.17,67.77 L48.98,66.71 L48.81,65.65 L48.66,64.58 L48.54,63.51 L48.44,62.43 L48.36,61.35 L48.32,60.27 L48.30,59.18 L48.31,58.09 L48.34,57.00 L48.40,55.90 L48.49,54.80 L48.62,53.70 L48.77,52.59Z" fill="none" stroke="#e8b23c" stroke-width="1.50" stroke-linejoin="round"/>
<path d="M104.20,61.85 L104.69,61.69 L105.18,61.54 L105.68,61.40 L106.17,61.27 L106.67,61.15 L107.17,61.03 L107.68,60.93 L108.18,60.83 L108.69,60.75 L109.19,60.67 L109.70,60.60 L110.21,60.53 L110.72,60.48 L111.23,60.43 L111.75,60.39 L112.26,60.36 L112.77,60.33 L113.29,60.31 L113.80,60.30 L114.32,60.29 L114.83,60.29 L115.35,60.29 L115.87,60.30 L116.38,60.32 L116.90,60.34 L117.41,60.36 L117.93,60.39 L118.44,60.43 L118.96,60.47 L119.47,60.51 L119.98,60.56 L120.49,60.61 L121.00,60.66 L121.51,60.72 L122.02,60.78 L122.53,60.85 L123.04,60.92 L123.54,60.99 L124.04,61.06 L124.54,61.13 L125.04,61.21 L125.54,61.29 L126.03,61.37 L126.53,61.45 L127.02,61.53 L127.51,61.62 L128.00,61.71 L128.48,61.80 L128.97,61.89 L129.45,61.98 L129.93,62.08 L130.41,62.18 L130.88,62.28 L131.36,62.38 L131.83,62.49 L132.31,62.59 L132.78,62.71 L133.25,62.82 L133.72,62.94 L134.18,63.06 L134.65,63.18 L135.12,63.31 L135.58,63.44 L136.04,63.58 L136.50,63.72 L136.96,63.86 L137.42,64.00 L137.88,64.15 L138.34,64.31 L138.80,64.46 L139.25,64.63 L139.71,64.79 L140.16,64.96 L140.61,65.13 L141.07,65.31 L141.52,65.49 L141.96,65.68 L142.41,65.87 L142.86,66.06 L143.30,66.26 L143.74,66.46 L144.19,66.67 L144.63,66.88 L145.07,67.09 L145.50,67.31 L145.94,67.54 L146.37,67.76 L146.81,68.00 L147.24,68.23 L147.67,68.48 L148.10,68.72 L148.52,68.97 L148.95,69.23 L149.37,69.49 L149.79,69.75 L150.21,70.02 L150.63,70.29 L151.04,70.57 L151.45,70.86 L151.86,71.14 L152.27,71.44 L152.68,71.73 L153.09,72.04 L153.49,72.35 L153.89,72.66 L154.29,72.97 L154.69,73.30 L155.08,73.62 L155.47,73.96 L155.86,74.29 L156.25,74.64 L156.64,74.98 L157.02,75.34 L157.39,75.70 L157.77,76.06 L158.13,76.43 L158.50,76.80 L158.85,77.18 L159.21,77.56 L159.55,77.94 L159.89,78.34 L160.23,78.73 L160.55,79.14 L160.87,79.54 L161.18,79.95 L161.48,80.37 L161.78,80.79 L162.06,81.22 L162.34,81.65 L162.60,82.08 L162.86,82.52 L163.10,82.97 L163.34,83.42 L163.56,83.87 L163.78,84.33 L163.98,84.79 L164.17,85.26 L164.35,85.72 L164.52,86.20 L164.68,86.67 L164.83,87.14 L164.97,87.62 L165.09,88.10 L165.21,88.58 L165.31,89.06 L165.40,89.54 L165.48,90.02 L165.55,90.50 L165.61,90.98 L165.65,91.47 L165.69,91.94 L165.71,92.42 L165.72,92.90 L165.72,93.37 L165.70,93.85 L165.68,94.32 L165.64,94.78 L165.59,95.25 L165.53,95.71 L165.46,96.16 L165.37,96.62 L165.27,97.07 L165.16,97.51 L165.04,97.95 L164.90,98.38 L164.75,98.81 L164.59,99.23 L164.42,99.65 L164.23,100.05 L164.03,100.46 L163.82,100.85 L163.59,101.24 L163.35,101.62 L163.10,101.99 L162.84,102.36 L162.57,102.71 L162.28,103.06 L161.98,103.40 L161.67,103.74 L161.35,104.07 L161.03,104.39 L160.69,104.70 L160.34,105.01 L159.98,105.30 L159.61,105.60 L159.24,105.88 L158.85,106.16 L158.46,106.43 L158.06,106.69 L157.65,106.95 L157.24,107.20 L156.81,107.44 L156.39,107.67 L155.95,107.90 L155.51,108.12 L155.06,108.34 L154.61,108.55 L154.16,108.75 L153.70,108.94 L153.23,109.13 L152.76,109.32 L152.29,109.49 L151.81,109.66 L151.33,109.82 L150.85,109.98 L150.37,110.13 L149.88,110.27 L149.39,110.41 L148.90,110.54 L148.41,110.67 L147.92,110.79 L147.42,110.90 L146.93,111.01 L146.43,111.11 L145.94,111.20 L145.44,111.29 L144.94,111.37 L144.44,111.45 L143.94,111.52 L143.44,111.58 L142.93,111.64 L142.43,111.70 L141.93,111.74 L141.42,111.79 L140.92,111.82 L140.41,111.85 L139.91,111.87 L139.40,111.89 L138.90,111.91 L138.39,111.91 L137.88,111.91 L137.38,111.91 L136.87,111.90 L136.36,111.88 L135.86,111.86 L135.35,111.84 L134.84,111.81 L134.34,111.77 L133.83,111.72 L133.33,111.68 L132.82,111.62 L132.32,111.56 L131.81,111.50 L131.31,111.43 L130.80,111.36 L130.30,111.28 L129.80,111.19 L129.30,111.10 L128.80,111.00 L128.30,110.90 L127.80,110.80 L127.30,110.69 L126.81,110.57 L126.31,110.45 L125.82,110.32 L125.32,110.19 L124.83,110.06 L124.34,109.91 L123.85,109.77 L123.37,109.62 L122.88,109.46 L122.39,109.30 L121.91,109.14 L121.43,108.97 L120.95,108.79 L120.47,108.61 L120.00,108.43 L119.52,108.24 L119.05,108.04 L118.58,107.85 L118.11,107.64 L117.65,107.44 L117.18,107.22 L116.72,107.01 L116.26,106.79 L115.80,106.56 L115.35,106.33 L114.90,106.10 L114.45,105.86 L114.00,105.61 L113.55,105.37 L113.11,105.11 L112.67,104.86 L112.24,104.60 L111.80,104.33 L111.37,104.06 L110.94,103.79 L110.52,103.51 L110.10,103.23 L109.68,102.95 L109.26,102.66 L108.85,102.36 L108.44,102.07 L108.03,101.77 L107.63,101.46 L107.23,101.15 L106.84,100.84 L106.45,100.52 L106.06,100.20 L105.67,99.87 L105.29,99.54 L104.91,99.21 L104.54,98.87 L104.17,98.53 L103.80,98.19 L103.44,97.84 L103.08,97.49 L102.73,97.14 L102.38,96.78 L102.04,96.42 L101.69,96.05 L101.36,95.68 L101.03,95.31 L100.70,94.93 L100.37,94.55 L100.06,94.17 L99.74,93.78 L99.43,93.39 L99.13,93.00 L98.83,92.60 L98.53,92.20 L98.24,91.80 L97.95,91.39 L97.67,90.98 L97.40,90.57 L97.13,90.15 L96.86,89.73 L96.60,89.31 L96.35,88.88 L96.10,88.46 L95.85,88.02 L95.61,87.59 L95.38,87.15 L95.15,86.71 L94.93,86.27 L94.71,85.82 L94.50,85.37 L94.30,84.92 L94.10,84.47 L93.91,84.01 L93.73,83.56 L93.56,83.10 L93.39,82.64 L93.23,82.18 L93.08,81.72 L92.94,81.26 L92.81,80.80 L92.69,80.33 L92.58,79.87 L92.47,79.41 L92.38,78.95 L92.30,78.49 L92.23,78.04 L92.17,77.58 L92.13,77.13 L92.09,76.67 L92.07,76.22 L92.06,75.77 L92.06,75.33 L92.08,74.89 L92.11,74.45 L92.16,74.01 L92.21,73.58 L92.29,73.15 L92.37,72.72 L92.48,72.30 L92.59,71.88 L92.73,71.47 L92.88,71.07 L93.04,70.66 L93.23,70.27 L93.43,69.88 L93.64,69.49 L93.88,69.11 L94.13,68.74 L94.40,68.37 L94.68,68.01 L94.98,67.66 L95.29,67.31 L95.61,66.97 L95.95,66.64 L96.30,66.31 L96.67,65.99 L97.04,65.68 L97.43,65.38 L97.83,65.08 L98.24,64.80 L98.65,64.52 L99.08,64.25 L99.51,63.98 L99.96,63.73 L100.41,63.48 L100.86,63.25 L101.32,63.02 L101.79,62.80 L102.27,62.59 L102.74,62.39 L103.22,62.20 L103.71,62.02Z" fill="none" stroke="#1e62ad" stroke-width="1.75" stroke-linejoin="round"/>
<path d="M292.86,42.48 L293.04,41.02 L293.28,39.57 L293.58,38.13 L293.94,36.71 L294.36,35.30 L294.84,33.91 L295.37,32.54 L295.96,31.20 L296.59,29.89 L297.28,28.60 L298.02,27.35 L298.81,26.13 L299.65,24.94 L300.53,23.80 L301.46,22.70 L302.43,21.64 L303.44,20.64 L304.49,19.68 L305.59,18.77 L306.72,17.92 L307.88,17.12 L309.09,16.39 L310.33,15.71 L311.60,15.09 L312.90,14.53 L314.22,14.02 L315.58,13.57 L316.96,13.16 L318.36,12.81 L319.78,12.50 L321.23,12.23 L322.68,12.01 L324.16,11.83 L325.65,11.69 L327.15,11.59 L328.66,11.52 L330.17,11.48 L331.70,11.48 L333.22,11.50 L334.75,11.56 L336.28,11.64 L337.81,11.74 L339.33,11.87 L340.85,12.01 L342.37,12.18 L343.87,12.36 L345.37,12.55 L346.85,12.77 L348.33,12.99 L349.81,13.23 L351.27,13.48 L352.74,13.75 L354.19,14.03 L355.64,14.32 L357.08,14.61 L358.52,14.92 L359.96,15.24 L361.39,15.56 L362.82,15.89 L364.25,16.23 L365.67,16.57 L367.09,16.92 L368.51,17.28 L369.92,17.63 L371.34,17.99 L372.76,18.35 L374.17,18.72 L375.59,19.08 L377.00,19.44 L378.42,19.81 L379.83,20.17 L381.25,20.53 L382.68,20.89 L384.10,21.24 L385.53,21.59 L386.96,21.93 L388.39,22.27 L389.83,22.60 L391.26,22.93 L392.70,23.26 L394.15,23.58 L395.59,23.90 L397.04,24.22 L398.49,24.54 L399.94,24.85 L401.39,25.17 L402.84,25.48 L404.29,25.80 L405.74,26.12 L407.19,26.43 L408.63,26.75 L410.08,27.08 L411.53,27.40 L412.97,27.73 L414.42,28.06 L415.86,28.40 L417.30,28.74 L418.73,29.09 L420.17,29.45 L421.60,29.81 L423.02,30.17 L424.45,30.55 L425.87,30.93 L427.29,31.32 L428.70,31.71 L430.11,32.11 L431.52,32.52 L432.93,32.93 L434.33,33.35 L435.73,33.78 L437.13,34.21 L438.53,34.65 L439.93,35.10 L441.32,35.55 L442.71,36.01 L444.10,36.47 L445.49,36.94 L446.88,37.42 L448.27,37.90 L449.65,38.39 L451.04,38.89 L452.42,39.39 L453.80,39.90 L455.18,40.41 L456.56,40.93 L457.95,41.45 L459.33,41.98 L460.71,42.52 L462.09,43.06 L463.47,43.60 L464.85,44.16 L466.23,44.71 L467.61,45.28 L468.99,45.85 L470.37,46.43 L471.74,47.01 L473.12,47.61 L474.48,48.21 L475.85,48.83 L477.20,49.46 L478.55,50.11 L479.89,50.77 L481.22,51.44 L482.53,52.14 L483.84,52.85 L485.13,53.58 L486.41,54.33 L487.67,55.11 L488.92,55.90 L490.15,56.72 L491.36,57.57 L492.55,58.44 L493.72,59.34 L494.87,60.26 L496.00,61.22 L497.10,62.20 L498.18,63.22 L499.24,64.27 L500.26,65.35 L501.26,66.46 L502.22,67.60 L503.16,68.76 L504.05,69.95 L504.91,71.16 L505.74,72.40 L506.52,73.66 L507.26,74.94 L507.96,76.24 L508.61,77.56 L509.22,78.89 L509.77,80.24 L510.28,81.61 L510.73,82.99 L511.13,84.38 L511.48,85.78 L511.76,87.19 L511.99,88.61 L512.16,90.04 L512.26,91.48 L512.30,92.92 L512.29,94.36 L512.21,95.80 L512.08,97.24 L511.89,98.68 L511.65,100.11 L511.36,101.53 L511.02,102.95 L510.63,104.36 L510.19,105.75 L509.71,107.13 L509.19,108.50 L508.62,109.84 L508.01,111.17 L507.36,112.48 L506.67,113.78 L505.95,115.05 L505.19,116.31 L504.40,117.55 L503.57,118.78 L502.72,119.98 L501.83,121.18 L500.92,122.35 L499.99,123.51 L499.02,124.66 L498.04,125.79 L497.03,126.91 L496.00,128.01 L494.95,129.10 L493.89,130.17 L492.81,131.23 L491.71,132.28 L490.60,133.31 L489.48,134.33 L488.35,135.34 L487.21,136.34 L486.06,137.32 L484.91,138.29 L483.75,139.25 L482.59,140.20 L481.43,141.14 L480.27,142.07 L479.10,142.98 L477.93,143.89 L476.75,144.78 L475.57,145.66 L474.39,146.53 L473.20,147.39 L472.00,148.23 L470.81,149.06 L469.60,149.88 L468.39,150.69 L467.18,151.48 L465.95,152.26 L464.72,153.03 L463.49,153.79 L462.25,154.53 L461.00,155.26 L459.74,155.97 L458.47,156.67 L457.19,157.36 L455.91,158.03 L454.62,158.69 L453.32,159.33 L452.00,159.96 L450.68,160.57 L449.35,161.17 L448.01,161.76 L446.66,162.33 L445.29,162.88 L443.92,163.42 L442.53,163.94 L441.14,164.45 L439.73,164.94 L438.32,165.41 L436.90,165.86 L435.47,166.30 L434.04,166.71 L432.59,167.11 L431.15,167.49 L429.69,167.84 L428.23,168.18 L426.77,168.49 L425.30,168.78 L423.83,169.06 L422.35,169.30 L420.88,169.53 L419.40,169.73 L417.91,169.90 L416.43,170.06 L414.95,170.18 L413.46,170.28 L411.98,170.36 L410.50,170.41 L409.02,170.43 L407.54,170.42 L406.06,170.39 L404.59,170.32 L403.12,170.23 L401.65,170.11 L400.19,169.96 L398.74,169.78 L397.28,169.57 L395.84,169.33 L394.40,169.06 L392.96,168.76 L391.54,168.43 L390.12,168.08 L388.70,167.70 L387.30,167.29 L385.90,166.85 L384.51,166.39 L383.12,165.90 L381.75,165.39 L380.38,164.85 L379.03,164.29 L377.68,163.70 L376.35,163.09 L375.02,162.46 L373.70,161.81 L372.40,161.13 L371.10,160.43 L369.82,159.71 L368.55,158.97 L367.29,158.21 L366.04,157.43 L364.81,156.62 L363.58,155.80 L362.37,154.97 L361.18,154.11 L359.99,153.24 L358.82,152.34 L357.66,151.44 L356.51,150.51 L355.37,149.58 L354.24,148.62 L353.12,147.66 L352.02,146.67 L350.92,145.68 L349.83,144.67 L348.76,143.65 L347.69,142.62 L346.63,141.58 L345.58,140.53 L344.54,139.47 L343.51,138.40 L342.49,137.32 L341.47,136.23 L340.46,135.14 L339.46,134.04 L338.47,132.93 L337.48,131.82 L336.50,130.70 L335.53,129.57 L334.56,128.44 L333.60,127.31 L332.65,126.17 L331.70,125.03 L330.75,123.89 L329.81,122.75 L328.88,121.61 L327.95,120.46 L327.03,119.31 L326.11,118.16 L325.20,117.00 L324.29,115.84 L323.39,114.68 L322.50,113.51 L321.62,112.34 L320.74,111.17 L319.87,109.99 L319.01,108.81 L318.15,107.62 L317.31,106.43 L316.47,105.23 L315.64,104.03 L314.82,102.82 L314.01,101.60 L313.20,100.38 L312.41,99.15 L311.63,97.92 L310.85,96.67 L310.09,95.43 L309.34,94.17 L308.59,92.91 L307.86,91.64 L307.14,90.36 L306.43,89.08 L305.74,87.79 L305.05,86.49 L304.38,85.18 L303.72,83.87 L303.07,82.55 L302.44,81.22 L301.82,79.88 L301.21,78.53 L300.62,77.18 L300.04,75.82 L299.48,74.44 L298.93,73.06 L298.40,71.67 L297.88,70.27 L297.38,68.87 L296.89,67.45 L296.42,66.02 L295.97,64.59 L295.53,63.14 L295.11,61.69 L294.72,60.22 L294.35,58.76 L294.00,57.28 L293.69,55.80 L293.42,54.32 L293.18,52.84 L292.99,51.35 L292.84,49.87 L292.73,48.38 L292.68,46.90 L292.68,45.43 L292.74,43.95Z" fill="none" stroke="#1e62ad" stroke-width="1.60" stroke-linejoin="round"/>
<circle cx="296.10" cy="19.00" r="1.60" fill="#4c7a27"/>
<circle cx="357.00" cy="12.10" r="1.60" fill="#4c7a27"/>
<circle cx="457.40" cy="37.90" r="1.60" fill="#4c7a27"/>
<circle cx="516.00" cy="75.00" r="1.60" fill="#4c7a27"/>
<circle cx="492.80" cy="137.50" r="1.60" fill="#4c7a27"/>
<circle cx="415.60" cy="174.80" r="1.60" fill="#4c7a27"/>
<circle cx="348.10" cy="148.30" r="1.60" fill="#4c7a27"/>
<circle cx="296.00" cy="75.50" r="1.60" fill="#4c7a27"/>
<circle cx="291.80" cy="28.50" r="1.60" fill="#dfa43a"/>
<circle cx="338.50" cy="10.00" r="1.60" fill="#dfa43a"/>
<circle cx="436.10" cy="31.90" r="1.60" fill="#dfa43a"/>
<circle cx="508.30" cy="65.20" r="1.60" fill="#dfa43a"/>
<circle cx="504.40" cy="122.80" r="1.60" fill="#dfa43a"/>
<circle cx="432.70" cy="170.60" r="1.60" fill="#dfa43a"/>
<circle cx="362.50" cy="159.20" r="1.60" fill="#dfa43a"/>
<circle cx="305.20" cy="92.50" r="1.60" fill="#dfa43a"/>
<path d="M25.10,243.20 L25.23,241.64 L25.42,240.08 L25.65,238.53 L25.94,237.00 L26.31,235.50 L26.76,234.02 L27.30,232.59 L27.94,231.20 L28.70,229.86 L29.56,228.58 L30.53,227.36 L31.59,226.21 L32.72,225.13 L33.92,224.12 L35.18,223.19 L36.47,222.34 L37.80,221.58 L39.16,220.91 L40.53,220.32 L41.92,219.82 L43.33,219.39 L44.76,219.04 L46.21,218.76 L47.67,218.55 L49.14,218.40 L50.63,218.32 L52.13,218.29 L53.63,218.31 L55.15,218.38 L56.68,218.50 L58.21,218.65 L59.74,218.85 L61.29,219.08 L62.83,219.35 L64.38,219.64 L65.93,219.95 L67.47,220.29 L69.02,220.64 L70.56,221.00 L72.10,221.37 L73.64,221.75 L75.17,222.14 L76.69,222.53 L78.21,222.93 L79.73,223.33 L81.24,223.74 L82.75,224.15 L84.26,224.57 L85.76,224.99 L87.26,225.41 L88.76,225.84 L90.25,226.27 L91.74,226.71 L93.23,227.15 L94.71,227.59 L96.19,228.03 L97.67,228.47 L99.15,228.92 L100.63,229.37 L102.10,229.82 L103.57,230.26 L105.04,230.71 L106.51,231.16 L107.98,231.61 L109.45,232.06 L110.91,232.51 L112.38,232.96 L113.84,233.41 L115.31,233.85 L116.77,234.30 L118.24,234.74 L119.70,235.18 L121.17,235.61 L122.63,236.05 L124.09,236.48 L125.56,236.90 L127.03,237.33 L128.49,237.75 L129.96,238.16 L131.43,238.57 L132.90,238.98 L134.38,239.38 L135.85,239.78 L137.33,240.17 L138.80,240.55 L140.28,240.93 L141.77,241.30 L143.25,241.66 L144.74,242.02 L146.23,242.37 L147.72,242.72 L149.22,243.05 L150.71,243.38 L152.21,243.71 L153.71,244.03 L155.22,244.35 L156.72,244.66 L158.23,244.97 L159.74,245.27 L161.25,245.58 L162.76,245.87 L164.27,246.17 L165.79,246.47 L167.30,246.76 L168.82,247.06 L170.33,247.35 L171.85,247.65 L173.37,247.94 L174.88,248.24 L176.40,248.53 L177.92,248.83 L179.44,249.13 L180.96,249.43 L182.47,249.74 L183.99,250.05 L185.51,250.37 L187.02,250.68 L188.54,251.01 L190.05,251.34 L191.57,251.67 L193.08,252.01 L194.59,252.36 L196.10,252.71 L197.61,253.07 L199.11,253.44 L200.62,253.82 L202.12,254.20 L203.62,254.60 L205.12,255.00 L206.62,255.41 L208.11,255.84 L209.61,256.27 L211.10,256.72 L212.58,257.18 L214.07,257.65 L215.55,258.13 L217.03,258.62 L218.50,259.13 L219.97,259.65 L221.44,260.19 L222.91,260.74 L224.37,261.31 L225.82,261.89 L227.27,262.49 L228.71,263.11 L230.12,263.76 L231.51,264.45 L232.87,265.17 L234.18,265.93 L235.46,266.74 L236.68,267.59 L237.85,268.50 L238.96,269.47 L239.99,270.50 L240.96,271.60 L241.84,272.77 L242.65,274.00 L243.39,275.29 L244.04,276.63 L244.63,278.01 L245.13,279.44 L245.56,280.90 L245.92,282.39 L246.21,283.90 L246.42,285.43 L246.56,286.98 L246.65,288.54 L246.67,290.10 L246.64,291.68 L246.56,293.26 L246.44,294.84 L246.29,296.41 L246.10,297.98 L245.88,299.55 L245.64,301.10 L245.36,302.65 L245.05,304.18 L244.71,305.70 L244.32,307.21 L243.90,308.71 L243.45,310.19 L242.96,311.66 L242.44,313.12 L241.89,314.56 L241.31,315.99 L240.69,317.41 L240.04,318.81 L239.37,320.19 L238.66,321.56 L237.93,322.92 L237.16,324.26 L236.38,325.58 L235.56,326.88 L234.72,328.17 L233.86,329.44 L232.97,330.70 L232.06,331.93 L231.12,333.15 L230.17,334.35 L229.19,335.53 L228.19,336.70 L227.17,337.84 L226.14,338.96 L225.08,340.07 L224.01,341.15 L222.92,342.21 L221.82,343.25 L220.70,344.27 L219.56,345.27 L218.41,346.26 L217.24,347.22 L216.07,348.17 L214.87,349.10 L213.67,350.01 L212.45,350.91 L211.22,351.79 L209.98,352.66 L208.73,353.52 L207.47,354.37 L206.20,355.20 L204.91,356.02 L203.62,356.83 L202.32,357.63 L201.02,358.43 L199.70,359.21 L198.38,359.99 L197.05,360.76 L195.71,361.53 L194.37,362.29 L193.02,363.04 L191.66,363.80 L190.31,364.55 L188.94,365.29 L187.58,366.04 L186.21,366.78 L184.84,367.53 L183.46,368.27 L182.09,369.02 L180.71,369.77 L179.33,370.52 L177.95,371.28 L176.57,372.04 L175.19,372.80 L173.81,373.57 L172.43,374.34 L171.05,375.11 L169.67,375.88 L168.29,376.65 L166.91,377.42 L165.53,378.18 L164.15,378.93 L162.76,379.67 L161.38,380.40 L159.99,381.12 L158.59,381.82 L157.20,382.50 L155.80,383.17 L154.40,383.82 L153.00,384.44 L151.59,385.04 L150.17,385.62 L148.76,386.17 L147.34,386.69 L145.91,387.18 L144.48,387.64 L143.04,388.06 L141.60,388.45 L140.15,388.80 L138.69,389.11 L137.23,389.38 L135.76,389.61 L134.29,389.79 L132.80,389.93 L131.31,390.01 L129.82,390.05 L128.31,390.04 L126.80,389.98 L125.28,389.87 L123.76,389.71 L122.24,389.51 L120.72,389.26 L119.20,388.96 L117.68,388.62 L116.17,388.24 L114.66,387.81 L113.17,387.34 L111.68,386.84 L110.20,386.29 L108.73,385.71 L107.27,385.08 L105.83,384.42 L104.41,383.73 L103.01,383.00 L101.62,382.24 L100.26,381.44 L98.92,380.61 L97.60,379.75 L96.31,378.86 L95.04,377.94 L93.80,377.00 L92.60,376.02 L91.42,375.02 L90.27,374.00 L89.15,372.95 L88.06,371.87 L86.99,370.78 L85.95,369.66 L84.93,368.53 L83.93,367.37 L82.96,366.20 L82.00,365.01 L81.06,363.80 L80.14,362.58 L79.23,361.35 L78.34,360.10 L77.46,358.84 L76.59,357.58 L75.74,356.30 L74.89,355.01 L74.05,353.72 L73.22,352.42 L72.40,351.11 L71.58,349.81 L70.76,348.49 L69.95,347.18 L69.13,345.86 L68.32,344.55 L67.50,343.23 L66.68,341.92 L65.86,340.61 L65.03,339.31 L64.20,338.01 L63.36,336.72 L62.51,335.43 L61.66,334.15 L60.80,332.87 L59.93,331.60 L59.06,330.33 L58.19,329.06 L57.32,327.80 L56.44,326.54 L55.57,325.27 L54.69,324.01 L53.81,322.75 L52.94,321.49 L52.06,320.23 L51.19,318.96 L50.32,317.69 L49.46,316.42 L48.60,315.14 L47.75,313.86 L46.91,312.58 L46.07,311.29 L45.24,309.99 L44.42,308.69 L43.61,307.38 L42.81,306.06 L42.02,304.73 L41.24,303.39 L40.47,302.05 L39.72,300.70 L38.97,299.34 L38.25,297.97 L37.53,296.60 L36.83,295.22 L36.15,293.83 L35.47,292.43 L34.82,291.03 L34.18,289.62 L33.56,288.20 L32.96,286.78 L32.37,285.35 L31.80,283.92 L31.25,282.47 L30.72,281.03 L30.21,279.57 L29.72,278.11 L29.25,276.65 L28.80,275.18 L28.37,273.70 L27.97,272.22 L27.58,270.73 L27.22,269.24 L26.89,267.74 L26.57,266.24 L26.29,264.73 L26.02,263.22 L25.78,261.71 L25.57,260.19 L25.39,258.66 L25.23,257.13 L25.10,255.60 L25.00,254.06 L24.92,252.52 L24.87,250.98 L24.86,249.43 L24.87,247.88 L24.92,246.32 L24.99,244.77Z" fill="none" stroke="#628f3e" stroke-width="1.30" stroke-linejoin="round"/>
<path d="M33.60,244.09 L34.06,242.80 L34.58,241.54 L35.17,240.30 L35.83,239.10 L36.55,237.92 L37.32,236.79 L38.15,235.69 L39.04,234.63 L39.97,233.61 L40.95,232.64 L41.98,231.71 L43.04,230.83 L44.15,230.01 L45.29,229.24 L46.47,228.52 L47.67,227.87 L48.90,227.28 L50.16,226.75 L51.44,226.29 L52.74,225.89 L54.06,225.57 L55.39,225.33 L56.73,225.15 L58.08,225.04 L59.44,224.99 L60.82,225.00 L62.20,225.06 L63.58,225.16 L64.97,225.31 L66.37,225.50 L67.77,225.72 L69.17,225.97 L70.58,226.24 L71.98,226.52 L73.38,226.82 L74.79,227.13 L76.18,227.45 L77.58,227.76 L78.97,228.09 L80.36,228.41 L81.75,228.74 L83.13,229.07 L84.52,229.40 L85.90,229.74 L87.27,230.08 L88.65,230.42 L90.02,230.77 L91.39,231.11 L92.76,231.46 L94.13,231.81 L95.49,232.17 L96.86,232.52 L98.22,232.88 L99.58,233.24 L100.93,233.60 L102.29,233.96 L103.64,234.32 L105.00,234.69 L106.35,235.05 L107.70,235.42 L109.05,235.79 L110.39,236.16 L111.74,236.53 L113.09,236.89 L114.43,237.26 L115.77,237.63 L117.12,238.00 L118.46,238.37 L119.80,238.74 L121.14,239.11 L122.48,239.48 L123.82,239.85 L125.16,240.22 L126.49,240.59 L127.83,240.95 L129.17,241.32 L130.51,241.68 L131.84,242.05 L133.18,242.41 L134.52,242.77 L135.86,243.13 L137.20,243.49 L138.53,243.84 L139.87,244.19 L141.21,244.55 L142.55,244.90 L143.89,245.24 L145.23,245.59 L146.57,245.93 L147.91,246.27 L149.25,246.60 L150.60,246.94 L151.94,247.27 L153.29,247.60 L154.63,247.92 L155.98,248.24 L157.33,248.56 L158.68,248.87 L160.03,249.18 L161.38,249.49 L162.73,249.80 L164.09,250.11 L165.44,250.41 L166.80,250.71 L168.16,251.02 L169.52,251.32 L170.88,251.62 L172.24,251.93 L173.60,252.23 L174.96,252.54 L176.33,252.84 L177.69,253.15 L179.06,253.47 L180.43,253.78 L181.80,254.10 L183.16,254.42 L184.54,254.74 L185.91,255.07 L187.28,255.41 L188.65,255.75 L190.03,256.09 L191.40,256.44 L192.78,256.80 L194.15,257.16 L195.53,257.53 L196.91,257.91 L198.29,258.29 L199.67,258.68 L201.05,259.08 L202.43,259.49 L203.81,259.91 L205.19,260.34 L206.56,260.79 L207.93,261.25 L209.28,261.72 L210.63,262.22 L211.96,262.73 L213.27,263.27 L214.56,263.84 L215.83,264.43 L217.08,265.05 L218.30,265.70 L219.50,266.38 L220.66,267.09 L221.79,267.84 L222.88,268.63 L223.94,269.45 L224.96,270.32 L225.93,271.23 L226.86,272.19 L227.74,273.19 L228.57,274.24 L229.35,275.34 L230.08,276.48 L230.77,277.66 L231.40,278.87 L231.98,280.12 L232.51,281.40 L232.98,282.71 L233.41,284.04 L233.79,285.39 L234.11,286.76 L234.39,288.14 L234.61,289.53 L234.78,290.93 L234.90,292.34 L234.97,293.74 L234.99,295.15 L234.95,296.55 L234.87,297.95 L234.75,299.35 L234.58,300.74 L234.36,302.13 L234.11,303.51 L233.82,304.89 L233.49,306.27 L233.13,307.64 L232.73,309.00 L232.30,310.35 L231.85,311.70 L231.36,313.04 L230.86,314.37 L230.32,315.69 L229.77,317.00 L229.20,318.30 L228.61,319.58 L228.00,320.86 L227.37,322.13 L226.73,323.38 L226.07,324.62 L225.39,325.84 L224.69,327.05 L223.97,328.24 L223.23,329.42 L222.47,330.57 L221.68,331.71 L220.88,332.83 L220.04,333.93 L219.19,335.00 L218.31,336.06 L217.40,337.09 L216.46,338.09 L215.50,339.07 L214.51,340.03 L213.49,340.96 L212.44,341.87 L211.38,342.75 L210.29,343.62 L209.18,344.47 L208.05,345.29 L206.91,346.11 L205.76,346.91 L204.59,347.69 L203.42,348.47 L202.23,349.24 L201.04,349.99 L199.85,350.74 L198.66,351.49 L197.46,352.23 L196.27,352.97 L195.08,353.71 L193.89,354.45 L192.71,355.19 L191.53,355.93 L190.35,356.67 L189.18,357.41 L188.00,358.15 L186.83,358.89 L185.65,359.63 L184.48,360.37 L183.31,361.10 L182.14,361.85 L180.96,362.59 L179.79,363.33 L178.61,364.07 L177.44,364.81 L176.26,365.56 L175.07,366.30 L173.89,367.05 L172.70,367.79 L171.50,368.52 L170.30,369.24 L169.08,369.95 L167.86,370.64 L166.63,371.31 L165.39,371.95 L164.13,372.57 L162.86,373.17 L161.57,373.73 L160.28,374.27 L158.97,374.78 L157.65,375.26 L156.32,375.71 L154.98,376.14 L153.64,376.53 L152.28,376.90 L150.92,377.24 L149.55,377.56 L148.17,377.84 L146.79,378.10 L145.40,378.33 L144.01,378.53 L142.61,378.71 L141.21,378.86 L139.81,378.98 L138.40,379.07 L137.00,379.13 L135.59,379.17 L134.18,379.18 L132.78,379.16 L131.37,379.12 L129.97,379.05 L128.57,378.95 L127.17,378.82 L125.77,378.67 L124.38,378.49 L123.00,378.28 L121.62,378.04 L120.25,377.78 L118.88,377.49 L117.52,377.17 L116.17,376.83 L114.83,376.46 L113.50,376.06 L112.18,375.64 L110.87,375.19 L109.57,374.71 L108.28,374.20 L107.01,373.67 L105.75,373.11 L104.50,372.52 L103.27,371.91 L102.05,371.27 L100.85,370.61 L99.66,369.91 L98.50,369.20 L97.35,368.45 L96.22,367.68 L95.10,366.88 L94.01,366.05 L92.94,365.20 L91.89,364.32 L90.85,363.42 L89.84,362.49 L88.85,361.54 L87.87,360.57 L86.91,359.58 L85.97,358.56 L85.04,357.53 L84.13,356.47 L83.23,355.41 L82.35,354.32 L81.48,353.22 L80.62,352.10 L79.77,350.98 L78.93,349.84 L78.10,348.69 L77.27,347.52 L76.46,346.35 L75.65,345.17 L74.85,343.99 L74.06,342.80 L73.27,341.60 L72.48,340.40 L71.70,339.20 L70.92,337.99 L70.14,336.78 L69.37,335.58 L68.59,334.37 L67.81,333.17 L67.04,331.96 L66.26,330.77 L65.47,329.58 L64.69,328.39 L63.90,327.21 L63.11,326.03 L62.31,324.86 L61.52,323.69 L60.73,322.53 L59.94,321.37 L59.14,320.21 L58.35,319.06 L57.57,317.90 L56.78,316.75 L56.00,315.60 L55.23,314.44 L54.46,313.29 L53.69,312.14 L52.93,310.98 L52.18,309.82 L51.44,308.66 L50.71,307.50 L49.98,306.33 L49.27,305.17 L48.56,303.99 L47.87,302.81 L47.19,301.63 L46.52,300.44 L45.86,299.24 L45.22,298.04 L44.59,296.83 L43.98,295.61 L43.38,294.38 L42.80,293.15 L42.22,291.91 L41.67,290.66 L41.13,289.40 L40.60,288.13 L40.08,286.86 L39.58,285.57 L39.09,284.28 L38.62,282.98 L38.15,281.66 L37.70,280.34 L37.26,279.01 L36.84,277.67 L36.43,276.31 L36.03,274.95 L35.64,273.58 L35.26,272.19 L34.90,270.80 L34.54,269.39 L34.20,267.97 L33.88,266.55 L33.57,265.11 L33.29,263.68 L33.04,262.24 L32.81,260.80 L32.62,259.36 L32.46,257.92 L32.34,256.49 L32.27,255.06 L32.24,253.64 L32.26,252.23 L32.33,250.83 L32.46,249.45 L32.65,248.08 L32.90,246.73 L33.22,245.40Z" fill="none" stroke="#e8b23c" stroke-width="1.45" stroke-linejoin="round"/>
<path d="M42.18,247.58 L42.66,246.47 L43.20,245.39 L43.81,244.36 L44.47,243.36 L45.18,242.40 L45.95,241.48 L46.77,240.60 L47.64,239.76 L48.55,238.96 L49.50,238.20 L50.49,237.49 L51.51,236.81 L52.57,236.18 L53.66,235.59 L54.77,235.05 L55.91,234.54 L57.07,234.09 L58.26,233.68 L59.45,233.31 L60.66,232.99 L61.89,232.71 L63.12,232.48 L64.35,232.30 L65.59,232.17 L66.84,232.08 L68.08,232.03 L69.33,232.01 L70.59,232.04 L71.84,232.10 L73.10,232.19 L74.35,232.30 L75.61,232.45 L76.87,232.62 L78.13,232.81 L79.40,233.02 L80.66,233.25 L81.92,233.49 L83.17,233.75 L84.43,234.01 L85.69,234.28 L86.94,234.56 L88.19,234.84 L89.44,235.13 L90.69,235.42 L91.93,235.71 L93.18,236.00 L94.42,236.30 L95.66,236.60 L96.89,236.91 L98.13,237.22 L99.36,237.53 L100.60,237.84 L101.83,238.15 L103.06,238.47 L104.28,238.79 L105.51,239.11 L106.73,239.44 L107.96,239.76 L109.18,240.09 L110.40,240.42 L111.62,240.75 L112.84,241.08 L114.06,241.41 L115.27,241.75 L116.49,242.08 L117.70,242.42 L118.92,242.75 L120.13,243.09 L121.34,243.43 L122.55,243.77 L123.76,244.10 L124.97,244.44 L126.18,244.78 L127.39,245.12 L128.60,245.46 L129.81,245.80 L131.01,246.13 L132.22,246.47 L133.43,246.80 L134.63,247.14 L135.84,247.47 L137.05,247.81 L138.25,248.14 L139.46,248.47 L140.67,248.80 L141.88,249.12 L143.08,249.45 L144.29,249.77 L145.50,250.10 L146.71,250.41 L147.91,250.73 L149.12,251.05 L150.33,251.36 L151.54,251.67 L152.75,251.98 L153.96,252.28 L155.17,252.58 L156.39,252.88 L157.60,253.18 L158.82,253.47 L160.03,253.76 L161.25,254.05 L162.46,254.34 L163.68,254.63 L164.90,254.91 L166.12,255.20 L167.34,255.49 L168.57,255.78 L169.79,256.07 L171.01,256.36 L172.24,256.65 L173.47,256.95 L174.70,257.25 L175.93,257.55 L177.16,257.86 L178.39,258.18 L179.63,258.49 L180.86,258.82 L182.10,259.14 L183.34,259.48 L184.58,259.82 L185.83,260.17 L187.07,260.53 L188.32,260.89 L189.57,261.26 L190.82,261.64 L192.07,262.04 L193.32,262.44 L194.57,262.85 L195.81,263.28 L197.05,263.72 L198.28,264.17 L199.50,264.64 L200.71,265.13 L201.90,265.63 L203.08,266.16 L204.25,266.70 L205.39,267.27 L206.52,267.85 L207.63,268.46 L208.71,269.09 L209.76,269.75 L210.79,270.43 L211.79,271.14 L212.76,271.88 L213.70,272.65 L214.60,273.44 L215.47,274.27 L216.30,275.13 L217.09,276.02 L217.84,276.95 L218.55,277.91 L219.22,278.90 L219.84,279.92 L220.42,280.97 L220.96,282.05 L221.46,283.15 L221.92,284.28 L222.33,285.43 L222.70,286.59 L223.03,287.78 L223.32,288.99 L223.57,290.21 L223.77,291.44 L223.93,292.68 L224.05,293.94 L224.13,295.21 L224.16,296.48 L224.15,297.75 L224.11,299.04 L224.02,300.32 L223.89,301.60 L223.73,302.89 L223.53,304.17 L223.29,305.45 L223.02,306.73 L222.71,308.00 L222.38,309.26 L222.01,310.52 L221.61,311.76 L221.18,312.99 L220.72,314.21 L220.24,315.42 L219.73,316.61 L219.19,317.78 L218.63,318.93 L218.04,320.06 L217.43,321.18 L216.80,322.27 L216.15,323.35 L215.48,324.40 L214.78,325.44 L214.07,326.47 L213.33,327.47 L212.58,328.46 L211.81,329.44 L211.02,330.40 L210.22,331.34 L209.40,332.27 L208.56,333.19 L207.71,334.09 L206.84,334.98 L205.96,335.85 L205.07,336.72 L204.16,337.57 L203.24,338.42 L202.31,339.25 L201.37,340.07 L200.42,340.88 L199.45,341.69 L198.48,342.48 L197.50,343.27 L196.51,344.05 L195.52,344.82 L194.52,345.58 L193.51,346.34 L192.49,347.10 L191.48,347.84 L190.45,348.59 L189.43,349.32 L188.39,350.06 L187.36,350.78 L186.32,351.51 L185.27,352.22 L184.22,352.93 L183.17,353.63 L182.11,354.32 L181.05,355.01 L179.98,355.68 L178.91,356.35 L177.83,357.01 L176.74,357.65 L175.65,358.29 L174.56,358.91 L173.46,359.53 L172.35,360.13 L171.24,360.72 L170.12,361.30 L169.00,361.86 L167.87,362.41 L166.73,362.94 L165.59,363.46 L164.44,363.97 L163.28,364.46 L162.11,364.93 L160.94,365.39 L159.77,365.83 L158.58,366.25 L157.39,366.66 L156.19,367.04 L154.98,367.41 L153.77,367.76 L152.55,368.09 L151.32,368.39 L150.08,368.68 L148.84,368.95 L147.59,369.19 L146.34,369.42 L145.08,369.62 L143.82,369.80 L142.55,369.96 L141.28,370.10 L140.01,370.21 L138.74,370.31 L137.47,370.37 L136.20,370.42 L134.92,370.44 L133.65,370.44 L132.38,370.41 L131.11,370.36 L129.84,370.28 L128.58,370.18 L127.32,370.06 L126.07,369.90 L124.82,369.73 L123.57,369.52 L122.34,369.29 L121.11,369.03 L119.88,368.75 L118.67,368.44 L117.46,368.10 L116.26,367.73 L115.07,367.34 L113.89,366.92 L112.72,366.47 L111.57,366.00 L110.42,365.50 L109.28,364.98 L108.16,364.43 L107.05,363.86 L105.95,363.26 L104.87,362.64 L103.79,362.00 L102.74,361.33 L101.69,360.64 L100.66,359.93 L99.65,359.20 L98.65,358.44 L97.67,357.66 L96.70,356.87 L95.74,356.06 L94.80,355.23 L93.87,354.38 L92.95,353.52 L92.04,352.65 L91.14,351.78 L90.25,350.89 L89.36,349.99 L88.49,349.09 L87.62,348.18 L86.75,347.26 L85.90,346.33 L85.05,345.40 L84.21,344.45 L83.38,343.51 L82.56,342.55 L81.74,341.59 L80.93,340.62 L80.13,339.65 L79.33,338.66 L78.54,337.68 L77.76,336.68 L76.98,335.68 L76.21,334.68 L75.45,333.67 L74.69,332.66 L73.94,331.63 L73.20,330.61 L72.46,329.58 L71.73,328.54 L71.01,327.50 L70.29,326.46 L69.58,325.41 L68.87,324.36 L68.17,323.30 L67.47,322.24 L66.78,321.18 L66.10,320.11 L65.42,319.04 L64.74,317.97 L64.08,316.89 L63.41,315.82 L62.76,314.73 L62.10,313.65 L61.46,312.56 L60.81,311.47 L60.18,310.38 L59.54,309.29 L58.91,308.20 L58.29,307.10 L57.67,306.00 L57.06,304.90 L56.45,303.80 L55.84,302.70 L55.24,301.60 L54.64,300.50 L54.05,299.40 L53.46,298.29 L52.88,297.19 L52.29,296.08 L51.72,294.98 L51.15,293.87 L50.58,292.77 L50.03,291.66 L49.48,290.54 L48.93,289.42 L48.40,288.30 L47.88,287.17 L47.37,286.04 L46.87,284.90 L46.38,283.76 L45.90,282.60 L45.44,281.44 L44.99,280.27 L44.56,279.09 L44.15,277.90 L43.75,276.70 L43.36,275.49 L43.00,274.26 L42.65,273.03 L42.32,271.78 L42.02,270.51 L41.73,269.24 L41.47,267.95 L41.23,266.65 L41.02,265.34 L40.84,264.03 L40.69,262.71 L40.57,261.39 L40.49,260.08 L40.45,258.77 L40.44,257.46 L40.48,256.16 L40.57,254.88 L40.70,253.60 L40.88,252.35 L41.12,251.12 L41.41,249.91 L41.76,248.72Z" fill="none" stroke="#1e62ad" stroke-width="1.55" stroke-linejoin="round"/>
<path d="M290.09,247.87 L290.25,246.35 L290.45,244.83 L290.70,243.33 L291.00,241.84 L291.37,240.39 L291.81,238.98 L292.32,237.61 L292.91,236.30 L293.59,235.06 L294.36,233.89 L295.23,232.80 L296.18,231.78 L297.21,230.85 L298.32,230.00 L299.50,229.24 L300.75,228.57 L302.06,227.98 L303.43,227.49 L304.85,227.07 L306.30,226.74 L307.80,226.48 L309.31,226.29 L310.85,226.17 L312.40,226.11 L313.95,226.11 L315.49,226.16 L317.02,226.27 L318.54,226.43 L320.04,226.63 L321.53,226.87 L323.01,227.15 L324.47,227.45 L325.93,227.79 L327.37,228.15 L328.81,228.53 L330.25,228.93 L331.68,229.34 L333.11,229.76 L334.53,230.18 L335.96,230.60 L337.38,231.03 L338.80,231.46 L340.23,231.88 L341.65,232.31 L343.07,232.75 L344.49,233.18 L345.91,233.61 L347.33,234.04 L348.75,234.48 L350.17,234.91 L351.59,235.35 L353.01,235.78 L354.43,236.21 L355.85,236.65 L357.27,237.08 L358.69,237.52 L360.11,237.95 L361.53,238.38 L362.95,238.81 L364.37,239.24 L365.79,239.67 L367.21,240.09 L368.64,240.52 L370.06,240.94 L371.48,241.36 L372.91,241.78 L374.33,242.20 L375.76,242.61 L377.18,243.03 L378.61,243.44 L380.04,243.84 L381.46,244.25 L382.89,244.65 L384.32,245.04 L385.76,245.44 L387.19,245.83 L388.62,246.21 L390.06,246.60 L391.49,246.98 L392.93,247.35 L394.37,247.72 L395.81,248.09 L397.25,248.45 L398.70,248.80 L400.14,249.15 L401.59,249.50 L403.04,249.84 L404.49,250.18 L405.94,250.51 L407.39,250.83 L408.85,251.15 L410.31,251.46 L411.77,251.77 L413.23,252.07 L414.69,252.37 L416.15,252.66 L417.62,252.94 L419.09,253.22 L420.56,253.49 L422.02,253.77 L423.49,254.03 L424.96,254.29 L426.44,254.55 L427.91,254.80 L429.38,255.05 L430.85,255.30 L432.32,255.54 L433.79,255.78 L435.27,256.02 L436.74,256.26 L438.21,256.49 L439.68,256.72 L441.15,256.95 L442.61,257.17 L444.08,257.39 L445.55,257.62 L447.01,257.84 L448.47,258.06 L449.94,258.28 L451.40,258.49 L452.85,258.71 L454.31,258.93 L455.76,259.14 L457.21,259.36 L458.66,259.57 L460.11,259.79 L461.55,260.01 L463.00,260.23 L464.44,260.45 L465.89,260.68 L467.34,260.91 L468.79,261.15 L470.25,261.39 L471.71,261.65 L473.18,261.91 L474.66,262.17 L476.14,262.45 L477.63,262.74 L479.13,263.04 L480.65,263.36 L482.17,263.68 L483.70,264.02 L485.23,264.39 L486.76,264.77 L488.28,265.19 L489.77,265.64 L491.25,266.12 L492.69,266.65 L494.10,267.22 L495.46,267.84 L496.78,268.51 L498.04,269.23 L499.24,270.02 L500.37,270.87 L501.43,271.79 L502.42,272.77 L503.32,273.81 L504.14,274.91 L504.88,276.07 L505.53,277.27 L506.08,278.53 L506.54,279.84 L506.90,281.19 L507.18,282.58 L507.37,284.01 L507.49,285.47 L507.54,286.95 L507.54,288.45 L507.48,289.97 L507.39,291.50 L507.26,293.03 L507.10,294.56 L506.92,296.09 L506.71,297.62 L506.48,299.14 L506.22,300.66 L505.93,302.16 L505.61,303.66 L505.26,305.15 L504.89,306.63 L504.48,308.09 L504.04,309.54 L503.57,310.97 L503.07,312.39 L502.53,313.79 L501.96,315.16 L501.36,316.52 L500.72,317.85 L500.05,319.16 L499.34,320.45 L498.60,321.71 L497.83,322.95 L497.02,324.17 L496.19,325.37 L495.33,326.55 L494.43,327.71 L493.52,328.84 L492.57,329.96 L491.60,331.06 L490.61,332.14 L489.59,333.20 L488.56,334.25 L487.50,335.27 L486.42,336.28 L485.32,337.28 L484.21,338.25 L483.08,339.22 L481.93,340.16 L480.77,341.09 L479.60,342.01 L478.41,342.92 L477.21,343.81 L476.00,344.69 L474.78,345.55 L473.55,346.40 L472.32,347.25 L471.08,348.08 L469.83,348.90 L468.57,349.71 L467.31,350.50 L466.05,351.29 L464.78,352.07 L463.50,352.84 L462.22,353.61 L460.94,354.36 L459.65,355.11 L458.35,355.84 L457.06,356.57 L455.75,357.30 L454.45,358.01 L453.14,358.72 L451.83,359.43 L450.52,360.13 L449.20,360.82 L447.88,361.51 L446.56,362.19 L445.24,362.87 L443.91,363.54 L442.59,364.21 L441.26,364.88 L439.93,365.54 L438.60,366.21 L437.27,366.87 L435.94,367.52 L434.61,368.18 L433.28,368.83 L431.96,369.49 L430.63,370.14 L429.30,370.79 L427.97,371.44 L426.64,372.09 L425.31,372.74 L423.97,373.38 L422.64,374.03 L421.30,374.67 L419.96,375.31 L418.62,375.95 L417.28,376.58 L415.93,377.21 L414.57,377.84 L413.21,378.47 L411.85,379.09 L410.48,379.72 L409.11,380.33 L407.72,380.95 L406.34,381.55 L404.95,382.13 L403.55,382.70 L402.14,383.24 L400.73,383.75 L399.32,384.22 L397.89,384.65 L396.47,385.03 L395.03,385.36 L393.60,385.64 L392.15,385.85 L390.70,386.00 L389.25,386.09 L387.79,386.12 L386.34,386.09 L384.88,386.00 L383.43,385.85 L381.97,385.65 L380.53,385.39 L379.09,385.08 L377.65,384.73 L376.23,384.32 L374.81,383.86 L373.41,383.36 L372.01,382.81 L370.63,382.22 L369.27,381.58 L367.92,380.91 L366.59,380.19 L365.28,379.44 L363.99,378.64 L362.72,377.82 L361.48,376.95 L360.25,376.06 L359.06,375.13 L357.89,374.18 L356.75,373.19 L355.64,372.18 L354.56,371.14 L353.51,370.08 L352.49,368.99 L351.51,367.89 L350.55,366.76 L349.61,365.62 L348.69,364.46 L347.78,363.30 L346.89,362.12 L346.01,360.94 L345.13,359.75 L344.26,358.55 L343.39,357.36 L342.51,356.17 L341.63,354.98 L340.74,353.80 L339.83,352.62 L338.91,351.46 L337.98,350.30 L337.03,349.15 L336.07,348.00 L335.11,346.86 L334.14,345.73 L333.17,344.59 L332.20,343.46 L331.23,342.33 L330.26,341.19 L329.30,340.05 L328.34,338.91 L327.39,337.76 L326.45,336.60 L325.51,335.45 L324.59,334.28 L323.67,333.12 L322.76,331.94 L321.85,330.77 L320.96,329.58 L320.07,328.40 L319.19,327.20 L318.32,326.01 L317.46,324.80 L316.60,323.59 L315.75,322.38 L314.92,321.16 L314.09,319.93 L313.27,318.70 L312.45,317.46 L311.65,316.22 L310.85,314.97 L310.07,313.71 L309.29,312.45 L308.52,311.18 L307.76,309.91 L307.01,308.63 L306.27,307.34 L305.54,306.05 L304.82,304.74 L304.11,303.44 L303.40,302.12 L302.71,300.80 L302.03,299.48 L301.36,298.14 L300.70,296.80 L300.06,295.46 L299.43,294.10 L298.81,292.74 L298.21,291.38 L297.63,290.01 L297.06,288.63 L296.50,287.25 L295.97,285.86 L295.45,284.46 L294.95,283.06 L294.47,281.66 L294.01,280.24 L293.57,278.83 L293.15,277.40 L292.75,275.97 L292.37,274.54 L292.02,273.10 L291.69,271.66 L291.38,270.21 L291.10,268.75 L290.85,267.29 L290.61,265.83 L290.41,264.35 L290.23,262.88 L290.08,261.40 L289.96,259.91 L289.87,258.43 L289.81,256.93 L289.78,255.43 L289.77,253.93 L289.80,252.42 L289.86,250.91 L289.96,249.39Z" fill="none" stroke="#e8b53c" stroke-width="1.25" stroke-linejoin="round"/>
<circle cx="297.00" cy="227.80" r="1.60" fill="#4c7a27"/>
<circle cx="291.00" cy="232.80" r="1.60" fill="#4c7a27"/>
<circle cx="309.10" cy="225.50" r="1.60" fill="#4c7a27"/>
<circle cx="321.60" cy="225.80" r="1.60" fill="#4c7a27"/>
<circle cx="288.70" cy="242.80" r="1.60" fill="#4c7a27"/>
<circle cx="288.30" cy="257.00" r="1.60" fill="#4c7a27"/>
<circle cx="289.80" cy="270.20" r="1.60" fill="#4c7a27"/>
<circle cx="346.00" cy="233.00" r="1.60" fill="#4c7a27"/>
<circle cx="381.80" cy="243.90" r="1.60" fill="#4c7a27"/>
<circle cx="408.40" cy="250.00" r="1.60" fill="#4c7a27"/>
<circle cx="437.20" cy="257.50" r="1.60" fill="#4c7a27"/>
<circle cx="441.50" cy="256.10" r="1.60" fill="#4c7a27"/>
<circle cx="469.00" cy="260.00" r="1.60" fill="#4c7a27"/>
<circle cx="484.00" cy="262.90" r="1.60" fill="#4c7a27"/>
<circle cx="498.60" cy="268.10" r="1.60" fill="#4c7a27"/>
<circle cx="508.50" cy="273.30" r="1.60" fill="#4c7a27"/>
<circle cx="510.80" cy="284.50" r="1.60" fill="#4c7a27"/>
<circle cx="507.50" cy="302.60" r="1.60" fill="#4c7a27"/>
<circle cx="500.90" cy="318.50" r="1.60" fill="#4c7a27"/>
<circle cx="481.00" cy="340.60" r="1.60" fill="#4c7a27"/>
<circle cx="450.80" cy="361.70" r="1.60" fill="#4c7a27"/>
<circle cx="430.90" cy="372.50" r="1.60" fill="#4c7a27"/>
<circle cx="408.00" cy="382.70" r="1.60" fill="#4c7a27"/>
<circle cx="389.80" cy="389.40" r="1.60" fill="#4c7a27"/>
<circle cx="379.20" cy="388.50" r="1.60" fill="#4c7a27"/>
<circle cx="366.50" cy="383.00" r="1.60" fill="#4c7a27"/>
<circle cx="355.90" cy="376.70" r="1.60" fill="#4c7a27"/>
<circle cx="343.20" cy="359.60" r="1.60" fill="#4c7a27"/>
<circle cx="324.80" cy="334.20" r="1.60" fill="#4c7a27"/>
<circle cx="311.80" cy="316.70" r="1.60" fill="#4c7a27"/>
<circle cx="297.50" cy="291.90" r="1.60" fill="#4c7a27"/>
<circle cx="300.10" cy="233.00" r="1.60" fill="#1d3a7c"/>
<circle cx="316.40" cy="229.20" r="1.60" fill="#1d3a7c"/>
<circle cx="293.20" cy="245.50" r="1.60" fill="#1d3a7c"/>
<circle cx="293.00" cy="265.90" r="1.60" fill="#1d3a7c"/>
<circle cx="346.30" cy="235.30" r="1.60" fill="#1d3a7c"/>
<circle cx="391.00" cy="248.30" r="1.60" fill="#1d3a7c"/>
<circle cx="471.80" cy="263.50" r="1.60" fill="#1d3a7c"/>
<circle cx="493.80" cy="271.00" r="1.60" fill="#1d3a7c"/>
<circle cx="503.60" cy="284.80" r="1.60" fill="#1d3a7c"/>
<circle cx="499.80" cy="308.30" r="1.60" fill="#1d3a7c"/>
<circle cx="478.10" cy="337.50" r="1.60" fill="#1d3a7c"/>
<circle cx="442.10" cy="362.70" r="1.60" fill="#1d3a7c"/>
<circle cx="409.20" cy="378.10" r="1.60" fill="#1d3a7c"/>
<circle cx="385.00" cy="382.90" r="1.60" fill="#1d3a7c"/>
<circle cx="366.00" cy="376.70" r="1.60" fill="#1d3a7c"/>
<circle cx="346.30" cy="357.90" r="1.60" fill="#1d3a7c"/>
<circle cx="322.50" cy="326.70" r="1.60" fill="#1d3a7c"/>
<circle cx="302.10" cy="294.10" r="1.60" fill="#1d3a7c"/>
<path d="M21.69,485.39 L21.68,483.86 L21.69,482.33 L21.74,480.79 L21.83,479.26 L21.95,477.73 L22.12,476.21 L22.32,474.70 L22.58,473.20 L22.87,471.71 L23.22,470.24 L23.61,468.79 L24.06,467.35 L24.56,465.94 L25.12,464.56 L25.74,463.20 L26.45,461.91 L27.31,460.81 L28.41,460.01 L29.70,459.48 L31.13,459.13 L32.63,458.87 L34.14,458.65 L35.66,458.45 L37.19,458.28 L38.73,458.15 L40.28,458.04 L41.82,457.97 L43.37,457.93 L44.92,457.93 L46.46,457.96 L48.00,458.02 L49.52,458.13 L51.04,458.27 L52.54,458.44 L54.03,458.65 L55.52,458.90 L56.99,459.17 L58.46,459.47 L59.92,459.79 L61.37,460.14 L62.82,460.51 L64.27,460.90 L65.71,461.30 L67.14,461.72 L68.58,462.15 L70.01,462.60 L71.44,463.05 L72.87,463.52 L74.30,463.99 L75.73,464.48 L77.16,464.97 L78.58,465.46 L80.01,465.97 L81.43,466.47 L82.86,466.98 L84.28,467.50 L85.71,468.01 L87.13,468.52 L88.56,469.04 L89.99,469.55 L91.41,470.06 L92.84,470.57 L94.27,471.07 L95.70,471.57 L97.13,472.07 L98.57,472.55 L100.01,473.03 L101.45,473.50 L102.89,473.96 L104.33,474.40 L105.78,474.84 L107.23,475.27 L108.68,475.68 L110.13,476.08 L111.59,476.48 L113.05,476.86 L114.51,477.23 L115.98,477.60 L117.45,477.95 L118.91,478.30 L120.38,478.63 L121.86,478.96 L123.33,479.29 L124.81,479.60 L126.29,479.91 L127.76,480.21 L129.25,480.51 L130.73,480.80 L132.21,481.09 L133.70,481.37 L135.18,481.65 L136.67,481.92 L138.15,482.19 L139.64,482.45 L141.13,482.72 L142.62,482.98 L144.11,483.24 L145.60,483.49 L147.09,483.75 L148.59,484.00 L150.08,484.25 L151.57,484.51 L153.06,484.76 L154.55,485.01 L156.04,485.27 L157.54,485.52 L159.03,485.77 L160.52,486.02 L162.01,486.27 L163.51,486.51 L165.00,486.76 L166.49,487.00 L167.98,487.24 L169.48,487.48 L170.97,487.72 L172.46,487.95 L173.96,488.18 L175.45,488.41 L176.95,488.63 L178.44,488.85 L179.94,489.07 L181.43,489.28 L182.93,489.49 L184.43,489.69 L185.92,489.89 L187.42,490.09 L188.92,490.28 L190.41,490.46 L191.91,490.64 L193.41,490.82 L194.91,490.98 L196.41,491.15 L197.91,491.30 L199.41,491.46 L200.91,491.61 L202.41,491.76 L203.91,491.92 L205.41,492.07 L206.91,492.23 L208.41,492.39 L209.91,492.56 L211.40,492.74 L212.90,492.93 L214.39,493.12 L215.88,493.33 L217.37,493.56 L218.86,493.79 L220.35,494.05 L221.83,494.32 L223.32,494.61 L224.80,494.92 L226.28,495.25 L227.75,495.60 L229.22,495.98 L230.69,496.38 L232.16,496.82 L233.62,497.27 L235.08,497.77 L236.52,498.30 L237.93,498.89 L239.31,499.53 L240.64,500.25 L241.92,501.05 L243.13,501.93 L244.26,502.92 L245.31,504.01 L246.27,505.22 L247.11,506.55 L247.79,507.95 L248.26,509.39 L248.48,510.82 L248.44,512.23 L248.21,513.62 L247.86,515.01 L247.44,516.42 L247.02,517.84 L246.59,519.28 L246.18,520.74 L245.76,522.21 L245.34,523.69 L244.92,525.18 L244.49,526.68 L244.05,528.18 L243.60,529.68 L243.13,531.17 L242.65,532.66 L242.15,534.14 L241.63,535.61 L241.08,537.07 L240.51,538.50 L239.92,539.92 L239.29,541.32 L238.62,542.68 L237.93,544.03 L237.20,545.34 L236.44,546.63 L235.64,547.89 L234.82,549.13 L233.97,550.34 L233.08,551.53 L232.17,552.69 L231.23,553.83 L230.27,554.95 L229.28,556.05 L228.27,557.13 L227.23,558.19 L226.17,559.23 L225.09,560.25 L223.99,561.25 L222.87,562.23 L221.73,563.19 L220.57,564.14 L219.39,565.08 L218.20,566.00 L216.99,566.90 L215.77,567.79 L214.54,568.66 L213.29,569.53 L212.03,570.38 L210.76,571.22 L209.48,572.04 L208.19,572.86 L206.89,573.67 L205.59,574.47 L204.28,575.26 L202.96,576.04 L201.64,576.81 L200.32,577.58 L198.99,578.34 L197.67,579.10 L196.34,579.85 L195.01,580.60 L193.68,581.34 L192.35,582.08 L191.02,582.81 L189.69,583.54 L188.35,584.27 L187.02,584.98 L185.69,585.70 L184.35,586.41 L183.02,587.11 L181.68,587.82 L180.35,588.51 L179.01,589.20 L177.67,589.89 L176.32,590.57 L174.98,591.24 L173.63,591.91 L172.29,592.58 L170.94,593.23 L169.59,593.89 L168.23,594.54 L166.88,595.18 L165.52,595.82 L164.16,596.45 L162.79,597.08 L161.43,597.70 L160.06,598.31 L158.68,598.92 L157.31,599.53 L155.93,600.12 L154.55,600.72 L153.16,601.30 L151.78,601.88 L150.38,602.46 L148.99,603.03 L147.59,603.59 L146.19,604.14 L144.78,604.70 L143.37,605.24 L141.96,605.78 L140.54,606.32 L139.12,606.85 L137.70,607.37 L136.27,607.89 L134.84,608.41 L133.41,608.92 L131.98,609.43 L130.54,609.93 L129.09,610.43 L127.65,610.92 L126.20,611.41 L124.75,611.90 L123.30,612.38 L121.84,612.86 L120.38,613.34 L118.92,613.81 L117.45,614.28 L115.99,614.70 L114.56,615.02 L113.17,615.18 L111.82,615.14 L110.55,614.83 L109.35,614.22 L108.20,613.37 L107.09,612.35 L105.99,611.25 L104.87,610.13 L103.71,609.07 L102.52,608.07 L101.29,607.14 L100.04,606.26 L98.77,605.42 L97.48,604.62 L96.19,603.83 L94.89,603.06 L93.59,602.30 L92.31,601.53 L91.04,600.74 L89.80,599.93 L88.58,599.09 L87.40,598.20 L86.25,597.27 L85.16,596.27 L84.10,595.22 L83.08,594.13 L82.09,592.99 L81.13,591.82 L80.19,590.62 L79.27,589.39 L78.37,588.15 L77.47,586.89 L76.59,585.63 L75.70,584.36 L74.82,583.10 L73.93,581.85 L73.03,580.61 L72.13,579.37 L71.23,578.14 L70.32,576.92 L69.41,575.71 L68.50,574.50 L67.58,573.29 L66.66,572.09 L65.74,570.90 L64.82,569.71 L63.89,568.52 L62.96,567.33 L62.04,566.15 L61.11,564.97 L60.18,563.79 L59.25,562.61 L58.32,561.44 L57.40,560.26 L56.47,559.08 L55.54,557.90 L54.62,556.72 L53.69,555.54 L52.77,554.35 L51.85,553.17 L50.94,551.97 L50.02,550.78 L49.11,549.58 L48.20,548.38 L47.30,547.17 L46.40,545.95 L45.51,544.73 L44.62,543.50 L43.73,542.27 L42.86,541.03 L41.99,539.78 L41.13,538.53 L40.27,537.27 L39.43,536.00 L38.60,534.73 L37.78,533.45 L36.97,532.16 L36.18,530.87 L35.39,529.57 L34.63,528.26 L33.87,526.94 L33.14,525.62 L32.42,524.29 L31.71,522.95 L31.03,521.60 L30.36,520.25 L29.72,518.88 L29.09,517.51 L28.49,516.13 L27.91,514.75 L27.35,513.35 L26.81,511.95 L26.30,510.54 L25.81,509.12 L25.35,507.69 L24.92,506.25 L24.51,504.81 L24.13,503.35 L23.77,501.89 L23.44,500.42 L23.14,498.95 L22.87,497.47 L22.62,495.98 L22.40,494.48 L22.21,492.98 L22.05,491.47 L21.92,489.96 L21.81,488.44 L21.74,486.92Z" fill="none" stroke="#628f3e" stroke-width="1.50" stroke-linejoin="round"/>
<path d="M24.44,485.30 L24.44,483.83 L24.46,482.35 L24.52,480.88 L24.61,479.42 L24.75,477.96 L24.93,476.51 L25.17,475.08 L25.46,473.66 L25.81,472.25 L26.22,470.86 L26.70,469.49 L27.27,468.18 L27.96,466.95 L28.80,465.88 L29.81,464.98 L30.98,464.27 L32.26,463.70 L33.60,463.22 L34.97,462.80 L36.35,462.42 L37.74,462.09 L39.14,461.81 L40.55,461.57 L41.97,461.37 L43.40,461.21 L44.83,461.09 L46.27,461.01 L47.72,460.97 L49.17,460.96 L50.62,460.99 L52.08,461.05 L53.53,461.13 L54.99,461.25 L56.45,461.40 L57.91,461.57 L59.37,461.77 L60.82,462.00 L62.27,462.24 L63.72,462.51 L65.16,462.80 L66.59,463.11 L68.02,463.43 L69.44,463.77 L70.86,464.12 L72.27,464.49 L73.67,464.88 L75.07,465.27 L76.46,465.68 L77.85,466.09 L79.23,466.52 L80.61,466.95 L81.99,467.39 L83.36,467.84 L84.74,468.29 L86.10,468.75 L87.47,469.21 L88.84,469.68 L90.20,470.14 L91.57,470.61 L92.93,471.07 L94.30,471.54 L95.66,472.00 L97.03,472.46 L98.39,472.91 L99.76,473.36 L101.13,473.81 L102.51,474.24 L103.88,474.67 L105.26,475.09 L106.65,475.50 L108.03,475.90 L109.42,476.29 L110.82,476.68 L112.21,477.05 L113.61,477.42 L115.01,477.78 L116.42,478.13 L117.82,478.47 L119.23,478.81 L120.64,479.14 L122.06,479.46 L123.47,479.78 L124.89,480.09 L126.31,480.39 L127.73,480.69 L129.15,480.99 L130.58,481.27 L132.00,481.56 L133.43,481.84 L134.86,482.11 L136.28,482.38 L137.71,482.65 L139.14,482.91 L140.58,483.17 L142.01,483.43 L143.44,483.68 L144.87,483.93 L146.31,484.18 L147.74,484.42 L149.17,484.67 L150.61,484.91 L152.04,485.15 L153.47,485.39 L154.90,485.63 L156.34,485.86 L157.77,486.10 L159.20,486.33 L160.63,486.56 L162.06,486.79 L163.50,487.02 L164.93,487.25 L166.36,487.47 L167.79,487.69 L169.22,487.91 L170.65,488.13 L172.09,488.34 L173.52,488.56 L174.95,488.77 L176.38,488.98 L177.81,489.18 L179.24,489.38 L180.68,489.58 L182.11,489.78 L183.54,489.98 L184.97,490.17 L186.41,490.36 L187.84,490.54 L189.27,490.72 L190.71,490.90 L192.14,491.08 L193.58,491.25 L195.01,491.42 L196.44,491.59 L197.88,491.75 L199.31,491.92 L200.75,492.08 L202.18,492.25 L203.62,492.43 L205.05,492.60 L206.48,492.79 L207.91,492.99 L209.34,493.19 L210.77,493.41 L212.19,493.65 L213.61,493.89 L215.03,494.16 L216.45,494.44 L217.86,494.75 L219.27,495.07 L220.68,495.42 L222.09,495.80 L223.49,496.20 L224.88,496.62 L226.28,497.08 L227.66,497.57 L229.05,498.09 L230.43,498.65 L231.80,499.24 L233.17,499.87 L234.51,500.55 L235.81,501.27 L237.05,502.06 L238.19,502.92 L239.22,503.85 L240.12,504.87 L240.87,505.99 L241.44,507.21 L241.85,508.51 L242.12,509.89 L242.25,511.32 L242.27,512.80 L242.19,514.29 L242.03,515.79 L241.82,517.27 L241.56,518.73 L241.25,520.17 L240.91,521.60 L240.53,523.00 L240.12,524.39 L239.70,525.77 L239.25,527.14 L238.79,528.50 L238.32,529.86 L237.85,531.22 L237.38,532.59 L236.90,533.95 L236.40,535.30 L235.88,536.65 L235.32,537.98 L234.74,539.31 L234.12,540.62 L233.47,541.92 L232.80,543.20 L232.10,544.48 L231.37,545.73 L230.61,546.97 L229.83,548.20 L229.02,549.40 L228.18,550.59 L227.32,551.77 L226.44,552.92 L225.53,554.05 L224.59,555.17 L223.64,556.26 L222.66,557.33 L221.65,558.38 L220.63,559.41 L219.58,560.41 L218.52,561.39 L217.43,562.34 L216.32,563.27 L215.19,564.17 L214.05,565.04 L212.88,565.89 L211.70,566.72 L210.50,567.51 L209.29,568.29 L208.06,569.06 L206.83,569.80 L205.58,570.54 L204.33,571.26 L203.07,571.98 L201.80,572.69 L200.53,573.39 L199.26,574.10 L197.99,574.81 L196.73,575.53 L195.46,576.25 L194.20,576.98 L192.95,577.73 L191.70,578.49 L190.46,579.25 L189.22,580.02 L187.98,580.80 L186.74,581.58 L185.51,582.36 L184.28,583.14 L183.04,583.92 L181.81,584.69 L180.57,585.45 L179.33,586.21 L178.09,586.96 L176.84,587.69 L175.58,588.41 L174.32,589.11 L173.06,589.80 L171.78,590.47 L170.50,591.12 L169.21,591.75 L167.92,592.37 L166.62,592.98 L165.31,593.57 L164.00,594.15 L162.68,594.72 L161.36,595.28 L160.04,595.83 L158.70,596.37 L157.37,596.91 L156.03,597.43 L154.68,597.96 L153.34,598.48 L151.98,598.99 L150.63,599.50 L149.27,600.01 L147.91,600.52 L146.55,601.03 L145.19,601.55 L143.82,602.06 L142.45,602.58 L141.08,603.10 L139.71,603.63 L138.34,604.16 L136.97,604.70 L135.59,605.25 L134.22,605.81 L132.85,606.37 L131.47,606.95 L130.10,607.52 L128.73,608.08 L127.36,608.61 L126.00,609.09 L124.63,609.53 L123.28,609.89 L121.92,610.17 L120.58,610.36 L119.23,610.44 L117.90,610.40 L116.57,610.23 L115.24,609.94 L113.91,609.57 L112.54,609.15 L111.15,608.72 L109.72,608.29 L108.28,607.85 L106.83,607.39 L105.40,606.89 L104.01,606.35 L102.65,605.76 L101.33,605.12 L100.05,604.44 L98.80,603.72 L97.58,602.95 L96.39,602.15 L95.24,601.31 L94.11,600.44 L93.00,599.54 L91.93,598.60 L90.87,597.64 L89.84,596.65 L88.82,595.64 L87.82,594.61 L86.84,593.56 L85.88,592.50 L84.92,591.42 L83.98,590.32 L83.05,589.22 L82.12,588.11 L81.20,586.99 L80.29,585.87 L79.38,584.75 L78.47,583.62 L77.57,582.49 L76.67,581.36 L75.77,580.23 L74.88,579.09 L73.98,577.96 L73.09,576.82 L72.20,575.68 L71.31,574.54 L70.43,573.40 L69.54,572.25 L68.66,571.11 L67.77,569.96 L66.89,568.82 L66.01,567.67 L65.12,566.52 L64.24,565.37 L63.35,564.23 L62.47,563.08 L61.58,561.93 L60.70,560.78 L59.81,559.63 L58.92,558.48 L58.02,557.34 L57.13,556.19 L56.23,555.04 L55.33,553.90 L54.43,552.75 L53.53,551.61 L52.63,550.46 L51.72,549.31 L50.83,548.17 L49.93,547.02 L49.04,545.86 L48.15,544.71 L47.26,543.55 L46.39,542.39 L45.52,541.22 L44.65,540.05 L43.80,538.88 L42.95,537.70 L42.12,536.52 L41.30,535.33 L40.48,534.13 L39.68,532.93 L38.90,531.72 L38.12,530.50 L37.37,529.27 L36.63,528.04 L35.90,526.80 L35.20,525.55 L34.51,524.29 L33.84,523.02 L33.19,521.73 L32.56,520.44 L31.95,519.14 L31.37,517.83 L30.81,516.50 L30.27,515.16 L29.75,513.82 L29.26,512.46 L28.79,511.09 L28.35,509.72 L27.92,508.33 L27.53,506.94 L27.15,505.54 L26.80,504.13 L26.47,502.71 L26.17,501.29 L25.89,499.86 L25.64,498.42 L25.40,496.98 L25.20,495.53 L25.02,494.08 L24.86,492.63 L24.73,491.17 L24.62,489.70 L24.54,488.24 L24.48,486.77Z" fill="none" stroke="#1e62ad" stroke-width="1.60" stroke-linejoin="round"/>
<path d="M23.34,485.34 L23.33,484.38 L23.34,483.30 L23.35,482.34 L23.38,481.39 L23.44,480.31 L23.50,479.36 L23.58,478.41 L23.69,477.34 L23.81,476.39 L23.94,475.45 L24.12,474.40 L24.30,473.47 L24.53,472.43 L24.76,471.52 L25.02,470.61 L25.33,469.60 L25.64,468.71 L26.03,467.73 L26.41,466.90 L26.89,465.99 L27.38,465.24 L27.92,464.54 L28.57,463.80 L30.25,462.43 L31.43,462.00 L32.43,461.71 L33.33,461.46 L34.24,461.23 L35.15,461.02 L36.19,460.82 L37.12,460.64 L38.04,460.48 L38.98,460.34 L40.03,460.21 L40.97,460.10 L41.91,460.01 L42.85,459.93 L43.92,459.87 L44.87,459.83 L45.81,459.80 L46.76,459.78 L47.83,459.79 L48.77,459.81 L49.72,459.84 L50.79,459.90 L51.73,459.96 L52.67,460.04 L53.73,460.14 L54.67,460.24 L55.61,460.36 L56.67,460.51 L57.60,460.65 L58.54,460.79 L59.59,460.98 L60.52,461.15 L61.45,461.33 L62.49,461.55 L63.42,461.75 L64.34,461.95 L65.38,462.20 L66.30,462.42 L67.22,462.65 L68.13,462.88 L69.16,463.16 L70.07,463.41 L70.98,463.66 L71.89,463.92 L72.91,464.22 L73.81,464.48 L74.71,464.76 L75.61,465.03 L76.63,465.35 L77.52,465.64 L78.42,465.93 L79.32,466.22 L80.21,466.51 L81.22,466.85 L82.11,467.15 L83.00,467.45 L83.89,467.75 L84.78,468.06 L85.67,468.36 L86.68,468.71 L87.56,469.02 L88.45,469.33 L89.34,469.64 L90.23,469.95 L91.12,470.26 L92.12,470.60 L93.01,470.91 L93.90,471.22 L94.79,471.52 L95.68,471.83 L96.57,472.13 L97.57,472.47 L98.46,472.77 L99.36,473.06 L100.25,473.36 L101.14,473.65 L102.15,473.97 L103.05,474.25 L103.95,474.53 L104.85,474.80 L105.75,475.07 L106.65,475.34 L107.67,475.63 L108.57,475.89 L109.48,476.15 L110.38,476.39 L111.29,476.64 L112.20,476.88 L113.22,477.15 L114.14,477.39 L115.05,477.62 L115.96,477.85 L116.87,478.07 L117.91,478.32 L118.82,478.54 L119.74,478.75 L120.66,478.96 L121.58,479.17 L122.61,479.40 L123.53,479.61 L124.45,479.81 L125.38,480.01 L126.30,480.20 L127.34,480.42 L128.26,480.61 L129.19,480.80 L130.11,480.98 L131.04,481.17 L132.08,481.37 L133.01,481.55 L133.94,481.73 L134.87,481.90 L135.79,482.08 L136.84,482.27 L137.77,482.44 L138.70,482.61 L139.63,482.78 L140.56,482.95 L141.61,483.13 L142.54,483.30 L143.47,483.46 L144.40,483.62 L145.33,483.78 L146.38,483.96 L147.31,484.12 L148.25,484.28 L149.18,484.44 L150.11,484.60 L151.16,484.78 L152.09,484.93 L153.02,485.09 L153.95,485.25 L154.88,485.40 L155.93,485.58 L156.86,485.73 L157.80,485.89 L158.73,486.04 L159.66,486.19 L160.71,486.36 L161.64,486.52 L162.57,486.67 L163.50,486.82 L164.43,486.97 L165.48,487.13 L166.41,487.28 L167.34,487.43 L168.27,487.58 L169.21,487.72 L170.26,487.88 L171.19,488.03 L172.12,488.17 L173.05,488.31 L173.98,488.45 L175.03,488.61 L175.96,488.74 L176.89,488.88 L177.83,489.01 L178.76,489.15 L179.69,489.28 L180.74,489.43 L181.67,489.56 L182.60,489.69 L183.54,489.81 L184.47,489.94 L185.52,490.08 L186.45,490.20 L187.39,490.32 L188.32,490.44 L189.25,490.56 L190.30,490.69 L191.24,490.81 L192.17,490.92 L193.10,491.03 L194.04,491.14 L194.97,491.25 L196.02,491.37 L196.96,491.47 L197.89,491.57 L198.83,491.68 L199.76,491.78 L200.81,491.89 L201.75,492.00 L202.68,492.10 L203.61,492.21 L204.55,492.32 L205.60,492.44 L206.53,492.55 L207.46,492.67 L208.40,492.79 L209.33,492.91 L210.38,493.06 L211.30,493.19 L212.23,493.33 L213.16,493.47 L214.09,493.62 L215.13,493.79 L216.06,493.96 L216.98,494.13 L217.91,494.31 L218.83,494.49 L219.87,494.71 L220.79,494.91 L221.71,495.13 L222.62,495.35 L223.66,495.61 L224.57,495.85 L225.48,496.11 L226.39,496.38 L227.42,496.68 L228.33,496.98 L229.24,497.28 L230.26,497.63 L231.16,497.96 L232.06,498.31 L233.08,498.70 L233.97,499.08 L234.85,499.48 L235.84,499.93 L236.69,500.37 L237.62,500.89 L238.41,501.39 L239.28,501.97 L240.00,502.54 L240.77,503.20 L241.49,503.91 L242.05,504.60 L242.64,505.41 L243.16,506.28 L243.69,507.30 L244.07,508.27 L244.47,509.51 L244.74,511.35 L244.65,512.83 L244.53,513.87 L244.36,514.91 L244.16,515.97 L243.99,516.91 L243.80,517.84 L243.59,518.78 L243.38,519.71 L243.12,520.75 L242.88,521.68 L242.64,522.60 L242.39,523.51 L242.12,524.43 L241.85,525.34 L241.54,526.37 L241.26,527.28 L240.97,528.19 L240.68,529.09 L240.38,530.00 L240.08,530.90 L239.77,531.80 L239.42,532.82 L239.11,533.72 L238.79,534.61 L238.47,535.51 L238.08,536.51 L237.73,537.39 L237.32,538.38 L236.94,539.25 L236.56,540.11 L236.10,541.08 L235.68,541.92 L235.20,542.87 L234.76,543.70 L234.24,544.62 L233.71,545.54 L233.23,546.34 L232.67,547.24 L232.16,548.03 L231.57,548.91 L231.04,549.68 L230.43,550.53 L229.87,551.29 L229.23,552.13 L228.66,552.86 L227.99,553.68 L227.40,554.40 L226.71,555.20 L226.09,555.90 L225.38,556.68 L224.74,557.36 L224.00,558.12 L223.34,558.79 L222.68,559.45 L221.91,560.17 L221.23,560.81 L220.44,561.52 L219.74,562.14 L219.03,562.76 L218.21,563.43 L217.49,564.03 L216.75,564.61 L216.01,565.19 L215.16,565.83 L214.41,566.38 L213.64,566.93 L212.87,567.47 L212.00,568.07 L211.21,568.59 L210.43,569.11 L209.63,569.62 L208.73,570.18 L207.93,570.68 L207.12,571.17 L206.31,571.66 L205.50,572.14 L204.58,572.69 L203.76,573.16 L202.94,573.64 L202.12,574.11 L201.29,574.58 L200.36,575.11 L199.54,575.57 L198.71,576.04 L197.89,576.51 L197.06,576.98 L196.13,577.51 L195.31,577.98 L194.49,578.46 L193.67,578.94 L192.74,579.48 L191.92,579.96 L191.11,580.44 L190.29,580.92 L189.48,581.41 L188.55,581.95 L187.74,582.44 L186.93,582.92 L186.11,583.41 L185.19,583.95 L184.38,584.43 L183.57,584.91 L182.75,585.39 L181.94,585.87 L181.02,586.40 L180.20,586.87 L179.38,587.34 L178.56,587.80 L177.63,588.31 L176.81,588.77 L175.99,589.22 L175.16,589.66 L174.33,590.10 L173.40,590.59 L172.56,591.02 L171.73,591.44 L170.89,591.86 L170.05,592.27 L169.10,592.73 L168.26,593.13 L167.42,593.53 L166.57,593.93 L165.72,594.32 L164.76,594.75 L163.91,595.13 L163.05,595.51 L162.20,595.89 L161.34,596.26 L160.37,596.68 L159.51,597.04 L158.65,597.40 L157.78,597.76 L156.81,598.17 L155.94,598.52 L155.07,598.87 L154.20,599.22 L153.33,599.57 L152.35,599.96 L151.47,600.31 L150.59,600.65 L149.72,600.99 L148.73,601.38 L147.85,601.72 L146.97,602.06 L146.08,602.39 L145.09,602.78 L144.20,603.12 L143.32,603.45 L142.43,603.79 L141.43,604.17 L140.54,604.51 L139.66,604.85 L138.77,605.19 L137.76,605.58 L136.87,605.92 L135.98,606.26 L135.09,606.61 L134.08,607.00 L133.19,607.35 L132.29,607.70 L131.40,608.05 L130.39,608.44 L129.50,608.79 L128.60,609.13 L127.71,609.45 L126.70,609.81 L125.81,610.11 L124.91,610.40 L124.02,610.66 L123.13,610.91 L122.24,611.13 L121.35,611.33 L120.46,611.50 L119.57,611.64 L118.81,611.71 L117.92,611.78 L117.04,611.81 L116.16,611.81 L115.28,611.77 L114.40,611.70 L113.18,611.64 L110.62,610.83 L109.70,610.34 L108.78,609.83 L107.94,609.39 L107.09,608.94 L106.33,608.58 L105.48,608.13 L104.73,607.76 L103.88,607.31 L103.04,606.85 L102.21,606.38 L101.38,605.92 L100.56,605.44 L99.74,604.97 L98.93,604.48 L98.13,603.99 L97.23,603.43 L96.44,602.92 L95.66,602.41 L94.89,601.89 L94.13,601.36 L93.37,600.82 L92.52,600.21 L91.79,599.65 L91.06,599.07 L90.34,598.49 L89.54,597.83 L88.84,597.22 L88.07,596.52 L87.39,595.88 L86.65,595.15 L86.00,594.48 L85.27,593.72 L84.65,593.02 L83.95,592.23 L83.33,591.52 L82.65,590.70 L82.05,589.97 L81.46,589.24 L80.87,588.50 L80.21,587.65 L79.63,586.91 L79.05,586.16 L78.48,585.40 L77.90,584.65 L77.33,583.89 L76.75,583.14 L76.11,582.28 L75.53,581.53 L74.96,580.78 L74.39,580.03 L73.82,579.27 L73.24,578.52 L72.67,577.77 L72.10,577.02 L71.45,576.18 L70.88,575.43 L70.30,574.68 L69.73,573.93 L69.15,573.19 L68.58,572.44 L67.93,571.60 L67.36,570.85 L66.78,570.11 L66.21,569.36 L65.63,568.62 L64.98,567.78 L64.41,567.04 L63.83,566.29 L63.26,565.55 L62.68,564.81 L62.03,563.97 L61.45,563.23 L60.87,562.48 L60.30,561.74 L59.72,561.00 L59.06,560.16 L58.49,559.42 L57.91,558.68 L57.33,557.94 L56.67,557.10 L56.09,556.36 L55.51,555.62 L54.93,554.88 L54.27,554.04 L53.69,553.30 L53.11,552.55 L52.53,551.81 L51.88,550.97 L51.30,550.23 L50.72,549.48 L50.14,548.73 L49.49,547.89 L48.92,547.14 L48.34,546.38 L47.77,545.63 L47.20,544.88 L46.56,544.02 L46.00,543.26 L45.43,542.50 L44.87,541.74 L44.25,540.88 L43.69,540.11 L43.14,539.34 L42.60,538.57 L42.06,537.80 L41.45,536.92 L40.92,536.14 L40.39,535.36 L39.86,534.57 L39.34,533.79 L38.76,532.89 L38.26,532.10 L37.75,531.31 L37.26,530.51 L36.76,529.70 L36.22,528.79 L35.74,527.98 L35.27,527.17 L34.81,526.36 L34.35,525.54 L33.84,524.61 L33.40,523.78 L32.97,522.95 L32.54,522.11 L32.07,521.16 L31.66,520.32 L31.26,519.47 L30.87,518.62 L30.44,517.66 L30.07,516.80 L29.71,515.93 L29.36,515.06 L28.97,514.08 L28.64,513.20 L28.31,512.32 L28.00,511.44 L27.66,510.43 L27.36,509.54 L27.08,508.65 L26.77,507.63 L26.51,506.73 L26.26,505.82 L25.98,504.80 L25.75,503.88 L25.53,502.97 L25.33,502.05 L25.10,501.01 L24.91,500.08 L24.73,499.16 L24.55,498.11 L24.39,497.17 L24.25,496.24 L24.09,495.18 L23.97,494.24 L23.86,493.30 L23.75,492.24 L23.66,491.29 L23.58,490.34 L23.50,489.27 L23.45,488.32 L23.40,487.37 L23.37,486.29Z" fill="none" stroke="#e8b23c" stroke-width="1.50" stroke-dasharray="3.5 5"/>
<circle cx="296.60" cy="451.20" r="1.70" fill="#1d3a7c"/>
<circle cx="331.10" cy="452.70" r="1.70" fill="#1d3a7c"/>
<circle cx="291.25" cy="474.50" r="1.70" fill="#1d3a7c"/>
<circle cx="306.25" cy="525.50" r="1.70" fill="#1d3a7c"/>
<circle cx="419.25" cy="477.50" r="1.70" fill="#1d3a7c"/>
<circle cx="480.75" cy="485.50" r="1.70" fill="#1d3a7c"/>
<circle cx="503.25" cy="498.75" r="1.70" fill="#1d3a7c"/>
<circle cx="484.50" cy="547.50" r="1.70" fill="#1d3a7c"/>
<circle cx="413.75" cy="595.00" r="1.70" fill="#1d3a7c"/>
<circle cx="374.20" cy="608.00" r="1.70" fill="#1d3a7c"/>
<circle cx="348.75" cy="587.50" r="1.70" fill="#1d3a7c"/>
<circle cx="296.90" cy="446.10" r="1.70" fill="#dfa43a"/>
<circle cx="303.50" cy="448.80" r="1.70" fill="#dfa43a"/>
<circle cx="338.80" cy="453.80" r="1.70" fill="#dfa43a"/>
<circle cx="363.75" cy="464.25" r="1.70" fill="#dfa43a"/>
<circle cx="290.00" cy="462.20" r="1.70" fill="#dfa43a"/>
<circle cx="290.00" cy="467.50" r="1.70" fill="#dfa43a"/>
<circle cx="293.75" cy="500.00" r="1.70" fill="#dfa43a"/>
<circle cx="299.25" cy="515.75" r="1.70" fill="#dfa43a"/>
<circle cx="433.00" cy="478.75" r="1.70" fill="#dfa43a"/>
<circle cx="452.50" cy="482.50" r="1.70" fill="#dfa43a"/>
<circle cx="489.50" cy="487.50" r="1.70" fill="#dfa43a"/>
<circle cx="495.00" cy="486.50" r="1.70" fill="#dfa43a"/>
<circle cx="508.25" cy="502.00" r="1.70" fill="#dfa43a"/>
<circle cx="502.50" cy="514.00" r="1.70" fill="#dfa43a"/>
<circle cx="479.25" cy="556.75" r="1.70" fill="#dfa43a"/>
<circle cx="455.75" cy="572.50" r="1.70" fill="#dfa43a"/>
<circle cx="405.50" cy="600.00" r="1.70" fill="#dfa43a"/>
<circle cx="392.00" cy="606.00" r="1.70" fill="#dfa43a"/>
<circle cx="368.00" cy="604.60" r="1.70" fill="#dfa43a"/>
<circle cx="366.50" cy="611.50" r="1.70" fill="#dfa43a"/>
<circle cx="343.00" cy="583.25" r="1.70" fill="#dfa43a"/>
<circle cx="333.25" cy="564.50" r="1.70" fill="#dfa43a"/>
</svg>
</body></html>
